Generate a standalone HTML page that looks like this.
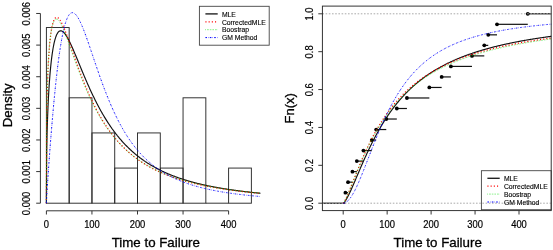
<!DOCTYPE html>
<html lang="en">
<head>
<meta charset="utf-8">
<title>Density and ECDF – Time to Failure</title>
<style>
html,body{margin:0;padding:0;background:#fff;}
body{width:553px;height:250px;overflow:hidden;font-family:"Liberation Sans",Arial,sans-serif;}
svg{display:block;}
</style>
</head>
<body>
<svg width="553" height="250" viewBox="0 0 553 250" font-family="'Liberation Sans', Arial, sans-serif">
<rect width="553" height="250" fill="#fff"/>
<g id="left">
<rect x="46.40" y="27.53" width="22.77" height="175.67" stroke="#2a2a2a" stroke-width="0.95" fill="none"/>
<rect x="69.17" y="97.80" width="22.78" height="105.40" stroke="#2a2a2a" stroke-width="0.95" fill="none"/>
<rect x="91.95" y="132.93" width="22.77" height="70.27" stroke="#2a2a2a" stroke-width="0.95" fill="none"/>
<rect x="114.72" y="168.07" width="22.78" height="35.13" stroke="#2a2a2a" stroke-width="0.95" fill="none"/>
<rect x="137.50" y="132.93" width="22.78" height="70.27" stroke="#2a2a2a" stroke-width="0.95" fill="none"/>
<rect x="160.28" y="168.07" width="22.78" height="35.13" stroke="#2a2a2a" stroke-width="0.95" fill="none"/>
<rect x="183.05" y="97.80" width="22.78" height="105.40" stroke="#2a2a2a" stroke-width="0.95" fill="none"/>
<path d="M205.83 203.20 H228.60" stroke="#2a2a2a" stroke-width="0.95" fill="none"/>
<rect x="228.60" y="168.07" width="22.77" height="35.13" stroke="#2a2a2a" stroke-width="0.95" fill="none"/>
<path d="M46.40 203.20 L46.63 158.24 L46.86 144.02 L47.08 133.78 L47.31 125.52 L47.54 118.51 L47.77 112.37 L47.99 106.90 L48.22 101.96 L48.45 97.44 L48.68 93.28 L48.91 89.43 L49.13 85.85 L49.36 82.50 L49.59 79.37 L49.82 76.43 L50.04 73.67 L50.27 71.06 L50.50 68.60 L50.73 66.27 L50.95 64.07 L51.18 61.98 L51.41 60.01 L51.64 58.14 L51.87 56.36 L52.09 54.68 L52.32 53.08 L52.55 51.57 L52.78 50.13 L53.00 48.77 L53.23 47.48 L53.46 46.25 L53.69 45.09 L53.92 43.99 L54.14 42.95 L54.37 41.97 L54.60 41.04 L54.83 40.17 L55.05 39.34 L55.28 38.57 L55.51 37.84 L55.74 37.15 L55.97 36.51 L56.19 35.91 L56.42 35.35 L56.65 34.83 L56.88 34.35 L57.10 33.90 L57.33 33.49 L57.56 33.11 L57.79 32.76 L58.02 32.45 L58.24 32.17 L58.47 31.91 L58.70 31.69 L58.93 31.49 L59.15 31.32 L59.38 31.18 L59.61 31.06 L59.84 30.96 L60.06 30.89 L60.29 30.84 L60.52 30.82 L60.75 30.81 L60.98 30.83 L61.20 30.86 L61.43 30.92 L61.66 30.99 L61.89 31.09 L62.11 31.20 L62.34 31.33 L62.57 31.47 L62.80 31.63 L63.03 31.81 L63.25 32.00 L63.48 32.20 L63.71 32.42 L63.94 32.66 L64.16 32.90 L64.39 33.16 L64.62 33.44 L64.85 33.72 L65.08 34.02 L65.30 34.32 L65.53 34.64 L65.76 34.97 L65.99 35.31 L66.21 35.65 L66.44 36.01 L66.67 36.38 L66.90 36.76 L67.13 37.14 L67.35 37.53 L67.58 37.93 L67.81 38.34 L68.04 38.76 L68.26 39.18 L68.49 39.61 L68.72 40.04 L68.95 40.49 L69.17 40.93 L69.40 41.39 L69.63 41.85 L69.86 42.31 L70.09 42.78 L70.31 43.26 L70.54 43.74 L70.77 44.23 L71.00 44.72 L71.22 45.21 L71.45 45.71 L71.68 46.21 L71.91 46.71 L72.14 47.22 L72.36 47.73 L72.59 48.25 L72.82 48.77 L73.05 49.29 L73.27 49.81 L73.50 50.34 L73.73 50.87 L73.96 51.40 L74.43 52.50 L74.89 53.60 L75.36 54.71 L75.83 55.83 L76.30 56.95 L76.76 58.08 L77.23 59.21 L77.70 60.34 L78.17 61.48 L78.63 62.61 L79.10 63.75 L79.57 64.88 L80.04 66.02 L80.50 67.15 L80.97 68.28 L81.44 69.41 L81.91 70.54 L82.37 71.66 L82.84 72.78 L83.31 73.90 L83.77 75.01 L84.24 76.11 L84.71 77.21 L85.18 78.31 L85.64 79.40 L86.11 80.48 L86.58 81.56 L87.05 82.63 L87.51 83.70 L87.98 84.75 L88.45 85.80 L88.92 86.85 L89.38 87.89 L89.85 88.91 L90.32 89.94 L90.79 90.95 L91.25 91.96 L91.72 92.96 L92.19 93.95 L92.66 94.93 L93.12 95.91 L93.59 96.87 L94.06 97.83 L94.53 98.78 L94.99 99.73 L95.46 100.66 L95.93 101.59 L96.40 102.50 L96.86 103.41 L97.33 104.32 L97.80 105.21 L98.27 106.09 L98.73 106.97 L99.20 107.84 L99.67 108.70 L100.14 109.55 L100.60 110.40 L101.07 111.23 L101.54 112.06 L102.01 112.88 L102.47 113.69 L102.94 114.50 L103.41 115.29 L103.88 116.08 L104.34 116.86 L104.81 117.63 L105.28 118.40 L105.75 119.16 L106.21 119.91 L106.68 120.65 L107.15 121.38 L107.62 122.11 L108.08 122.83 L108.55 123.54 L109.02 124.25 L109.49 124.94 L109.95 125.63 L110.42 126.32 L110.89 126.99 L111.36 127.66 L111.82 128.33 L112.29 128.98 L112.76 129.63 L113.23 130.27 L113.69 130.91 L114.16 131.54 L114.63 132.16 L115.10 132.77 L115.56 133.38 L116.03 133.99 L116.50 134.58 L116.97 135.17 L117.43 135.76 L117.90 136.33 L118.37 136.91 L118.84 137.47 L119.30 138.03 L119.77 138.59 L120.24 139.14 L120.71 139.68 L121.17 140.21 L121.64 140.75 L122.11 141.27 L122.58 141.79 L123.04 142.31 L123.51 142.82 L123.98 143.32 L124.45 143.82 L124.91 144.31 L125.38 144.80 L125.85 145.29 L126.32 145.76 L126.78 146.24 L127.25 146.71 L127.72 147.17 L128.19 147.63 L128.65 148.08 L129.12 148.53 L129.59 148.98 L130.06 149.42 L130.52 149.85 L130.99 150.28 L131.46 150.71 L131.93 151.13 L132.39 151.55 L132.86 151.96 L133.33 152.37 L133.80 152.78 L134.26 153.18 L134.73 153.58 L135.20 153.97 L135.67 154.36 L136.13 154.74 L136.60 155.12 L137.07 155.50 L137.54 155.88 L138.00 156.24 L138.47 156.61 L138.94 156.97 L139.41 157.33 L139.87 157.69 L140.34 158.04 L140.81 158.39 L141.28 158.73 L141.74 159.07 L142.21 159.41 L142.68 159.74 L143.15 160.07 L143.61 160.40 L144.08 160.72 L144.55 161.05 L145.02 161.36 L145.48 161.68 L145.95 161.99 L146.42 162.30 L146.89 162.60 L147.35 162.91 L147.82 163.21 L148.29 163.50 L148.76 163.80 L149.22 164.09 L149.69 164.38 L150.16 164.66 L150.63 164.94 L151.09 165.22 L151.56 165.50 L152.03 165.78 L152.50 166.05 L152.96 166.32 L153.43 166.58 L153.90 166.85 L154.37 167.11 L154.83 167.37 L155.30 167.62 L155.77 167.88 L156.24 168.13 L156.70 168.38 L157.17 168.63 L157.64 168.87 L158.11 169.11 L158.57 169.35 L159.04 169.59 L159.51 169.83 L159.98 170.06 L160.44 170.29 L160.91 170.52 L161.38 170.75 L161.85 170.97 L162.31 171.19 L162.78 171.42 L163.25 171.63 L163.72 171.85 L164.18 172.07 L164.65 172.28 L165.12 172.49 L165.59 172.70 L166.05 172.91 L166.52 173.11 L166.99 173.31 L167.46 173.51 L167.92 173.71 L168.39 173.91 L168.86 174.11 L169.33 174.30 L169.79 174.49 L170.26 174.69 L170.73 174.87 L171.20 175.06 L171.66 175.25 L172.13 175.43 L172.60 175.61 L173.06 175.80 L173.53 175.97 L174.00 176.15 L174.47 176.33 L174.93 176.50 L175.40 176.68 L175.87 176.85 L176.34 177.02 L176.80 177.19 L177.27 177.35 L177.74 177.52 L178.21 177.68 L178.67 177.85 L179.14 178.01 L179.61 178.17 L180.08 178.33 L180.54 178.48 L181.01 178.64 L181.48 178.79 L181.95 178.95 L182.41 179.10 L182.88 179.25 L183.35 179.40 L183.82 179.55 L184.28 179.69 L184.75 179.84 L185.22 179.98 L185.69 180.13 L186.15 180.27 L186.62 180.41 L187.09 180.55 L187.56 180.69 L188.02 180.82 L188.49 180.96 L188.96 181.10 L189.43 181.23 L189.89 181.36 L190.36 181.49 L190.83 181.63 L191.30 181.75 L191.76 181.88 L192.23 182.01 L192.70 182.14 L193.17 182.26 L193.63 182.39 L194.10 182.51 L194.57 182.63 L195.04 182.75 L195.50 182.88 L195.97 182.99 L196.44 183.11 L196.91 183.23 L197.37 183.35 L197.84 183.46 L198.31 183.58 L198.78 183.69 L199.24 183.80 L199.71 183.92 L200.18 184.03 L200.65 184.14 L201.11 184.25 L201.58 184.36 L202.05 184.46 L202.52 184.57 L202.98 184.68 L203.45 184.78 L203.92 184.89 L204.39 184.99 L204.85 185.09 L205.32 185.20 L205.79 185.30 L206.26 185.40 L206.72 185.50 L207.19 185.60 L207.66 185.69 L208.13 185.79 L208.59 185.89 L209.06 185.98 L209.53 186.08 L210.00 186.17 L210.46 186.27 L210.93 186.36 L211.40 186.45 L211.87 186.55 L212.33 186.64 L212.80 186.73 L213.27 186.82 L213.74 186.91 L214.20 186.99 L214.67 187.08 L215.14 187.17 L215.61 187.25 L216.07 187.34 L216.54 187.43 L217.01 187.51 L217.48 187.59 L217.94 187.68 L218.41 187.76 L218.88 187.84 L219.35 187.92 L219.81 188.00 L220.28 188.08 L220.75 188.16 L221.22 188.24 L221.68 188.32 L222.15 188.40 L222.62 188.48 L223.09 188.55 L223.55 188.63 L224.02 188.71 L224.49 188.78 L224.96 188.86 L225.42 188.93 L225.89 189.00 L226.36 189.08 L226.83 189.15 L227.29 189.22 L227.76 189.29 L228.23 189.36 L228.70 189.43 L229.16 189.50 L229.63 189.57 L230.10 189.64 L230.57 189.71 L231.03 189.78 L231.50 189.85 L231.97 189.91 L232.44 189.98 L232.90 190.05 L233.37 190.11 L233.84 190.18 L234.31 190.24 L234.77 190.31 L235.24 190.37 L235.71 190.43 L236.18 190.50 L236.64 190.56 L237.11 190.62 L237.58 190.68 L238.05 190.75 L238.51 190.81 L238.98 190.87 L239.45 190.93 L239.92 190.99 L240.38 191.05 L240.85 191.11 L241.32 191.16 L241.79 191.22 L242.25 191.28 L242.72 191.34 L243.19 191.39 L243.66 191.45 L244.12 191.51 L244.59 191.56 L245.06 191.62 L245.53 191.67 L245.99 191.73 L246.46 191.78 L246.93 191.84 L247.40 191.89 L247.86 191.94 L248.33 192.00 L248.80 192.05 L249.27 192.10 L249.73 192.15 L250.20 192.21 L250.67 192.26 L251.14 192.31 L251.60 192.36 L252.07 192.41 L252.54 192.46 L253.01 192.51 L253.47 192.56 L253.94 192.61 L254.41 192.66 L254.88 192.71 L255.34 192.75 L255.81 192.80 L256.28 192.85 L256.75 192.90 L257.21 192.94 L257.68 192.99 L258.15 193.04 L258.62 193.08 L259.08 193.13 L259.55 193.17 L260.02 193.22 L260.49 193.26" fill="none" stroke="#111" stroke-width="1.15"/>
<path d="M46.40 203.20 L46.63 127.64 L46.86 110.42 L47.08 98.75 L47.31 89.73 L47.54 82.33 L47.77 76.03 L47.99 70.57 L48.22 65.74 L48.45 61.44 L48.68 57.56 L48.91 54.04 L49.13 50.84 L49.36 47.92 L49.59 45.23 L49.82 42.76 L50.04 40.49 L50.27 38.39 L50.50 36.45 L50.73 34.65 L50.95 32.99 L51.18 31.46 L51.41 30.04 L51.64 28.73 L51.87 27.51 L52.09 26.40 L52.32 25.37 L52.55 24.42 L52.78 23.55 L53.00 22.75 L53.23 22.02 L53.46 21.36 L53.69 20.76 L53.92 20.22 L54.14 19.74 L54.37 19.30 L54.60 18.92 L54.83 18.59 L55.05 18.30 L55.28 18.06 L55.51 17.85 L55.74 17.69 L55.97 17.56 L56.19 17.48 L56.42 17.42 L56.65 17.40 L56.88 17.41 L57.10 17.45 L57.33 17.52 L57.56 17.62 L57.79 17.74 L58.02 17.89 L58.24 18.07 L58.47 18.26 L58.70 18.48 L58.93 18.72 L59.15 18.98 L59.38 19.27 L59.61 19.57 L59.84 19.88 L60.06 20.22 L60.29 20.57 L60.52 20.94 L60.75 21.32 L60.98 21.72 L61.20 22.13 L61.43 22.56 L61.66 22.99 L61.89 23.44 L62.11 23.91 L62.34 24.38 L62.57 24.86 L62.80 25.35 L63.03 25.86 L63.25 26.37 L63.48 26.89 L63.71 27.42 L63.94 27.96 L64.16 28.51 L64.39 29.06 L64.62 29.62 L64.85 30.19 L65.08 30.76 L65.30 31.34 L65.53 31.92 L65.76 32.51 L65.99 33.11 L66.21 33.71 L66.44 34.31 L66.67 34.92 L66.90 35.53 L67.13 36.15 L67.35 36.77 L67.58 37.39 L67.81 38.02 L68.04 38.65 L68.26 39.28 L68.49 39.91 L68.72 40.55 L68.95 41.19 L69.17 41.83 L69.40 42.47 L69.63 43.11 L69.86 43.76 L70.09 44.40 L70.31 45.05 L70.54 45.70 L70.77 46.35 L71.00 47.00 L71.22 47.65 L71.45 48.30 L71.68 48.95 L71.91 49.60 L72.14 50.26 L72.36 50.91 L72.59 51.56 L72.82 52.21 L73.05 52.86 L73.27 53.51 L73.50 54.16 L73.73 54.81 L73.96 55.46 L74.43 56.79 L74.89 58.11 L75.36 59.43 L75.83 60.75 L76.30 62.06 L76.76 63.36 L77.23 64.66 L77.70 65.95 L78.17 67.23 L78.63 68.50 L79.10 69.77 L79.57 71.02 L80.04 72.27 L80.50 73.51 L80.97 74.74 L81.44 75.96 L81.91 77.17 L82.37 78.38 L82.84 79.57 L83.31 80.75 L83.77 81.92 L84.24 83.08 L84.71 84.23 L85.18 85.37 L85.64 86.50 L86.11 87.62 L86.58 88.73 L87.05 89.83 L87.51 90.92 L87.98 91.99 L88.45 93.06 L88.92 94.11 L89.38 95.16 L89.85 96.19 L90.32 97.22 L90.79 98.23 L91.25 99.23 L91.72 100.22 L92.19 101.21 L92.66 102.18 L93.12 103.14 L93.59 104.09 L94.06 105.03 L94.53 105.96 L94.99 106.88 L95.46 107.79 L95.93 108.69 L96.40 109.58 L96.86 110.46 L97.33 111.34 L97.80 112.20 L98.27 113.05 L98.73 113.89 L99.20 114.73 L99.67 115.55 L100.14 116.37 L100.60 117.17 L101.07 117.97 L101.54 118.76 L102.01 119.54 L102.47 120.31 L102.94 121.07 L103.41 121.82 L103.88 122.57 L104.34 123.30 L104.81 124.03 L105.28 124.75 L105.75 125.46 L106.21 126.17 L106.68 126.86 L107.15 127.55 L107.62 128.23 L108.08 128.91 L108.55 129.57 L109.02 130.23 L109.49 130.88 L109.95 131.52 L110.42 132.16 L110.89 132.79 L111.36 133.41 L111.82 134.02 L112.29 134.63 L112.76 135.23 L113.23 135.83 L113.69 136.42 L114.16 137.00 L114.63 137.57 L115.10 138.14 L115.56 138.70 L116.03 139.26 L116.50 139.81 L116.97 140.35 L117.43 140.89 L117.90 141.42 L118.37 141.94 L118.84 142.46 L119.30 142.98 L119.77 143.49 L120.24 143.99 L120.71 144.49 L121.17 144.98 L121.64 145.47 L122.11 145.95 L122.58 146.42 L123.04 146.89 L123.51 147.36 L123.98 147.82 L124.45 148.27 L124.91 148.73 L125.38 149.17 L125.85 149.61 L126.32 150.05 L126.78 150.48 L127.25 150.91 L127.72 151.33 L128.19 151.75 L128.65 152.16 L129.12 152.57 L129.59 152.97 L130.06 153.37 L130.52 153.77 L130.99 154.16 L131.46 154.55 L131.93 154.93 L132.39 155.31 L132.86 155.69 L133.33 156.06 L133.80 156.43 L134.26 156.79 L134.73 157.15 L135.20 157.51 L135.67 157.86 L136.13 158.21 L136.60 158.56 L137.07 158.90 L137.54 159.24 L138.00 159.57 L138.47 159.90 L138.94 160.23 L139.41 160.56 L139.87 160.88 L140.34 161.20 L140.81 161.51 L141.28 161.83 L141.74 162.13 L142.21 162.44 L142.68 162.74 L143.15 163.04 L143.61 163.34 L144.08 163.63 L144.55 163.92 L145.02 164.21 L145.48 164.50 L145.95 164.78 L146.42 165.06 L146.89 165.33 L147.35 165.61 L147.82 165.88 L148.29 166.15 L148.76 166.41 L149.22 166.68 L149.69 166.94 L150.16 167.20 L150.63 167.45 L151.09 167.70 L151.56 167.96 L152.03 168.20 L152.50 168.45 L152.96 168.69 L153.43 168.93 L153.90 169.17 L154.37 169.41 L154.83 169.64 L155.30 169.88 L155.77 170.11 L156.24 170.34 L156.70 170.56 L157.17 170.78 L157.64 171.01 L158.11 171.23 L158.57 171.44 L159.04 171.66 L159.51 171.87 L159.98 172.08 L160.44 172.29 L160.91 172.50 L161.38 172.71 L161.85 172.91 L162.31 173.11 L162.78 173.31 L163.25 173.51 L163.72 173.71 L164.18 173.90 L164.65 174.09 L165.12 174.29 L165.59 174.48 L166.05 174.66 L166.52 174.85 L166.99 175.03 L167.46 175.22 L167.92 175.40 L168.39 175.58 L168.86 175.75 L169.33 175.93 L169.79 176.11 L170.26 176.28 L170.73 176.45 L171.20 176.62 L171.66 176.79 L172.13 176.96 L172.60 177.12 L173.06 177.29 L173.53 177.45 L174.00 177.61 L174.47 177.77 L174.93 177.93 L175.40 178.09 L175.87 178.24 L176.34 178.40 L176.80 178.55 L177.27 178.70 L177.74 178.85 L178.21 179.00 L178.67 179.15 L179.14 179.30 L179.61 179.44 L180.08 179.59 L180.54 179.73 L181.01 179.87 L181.48 180.01 L181.95 180.15 L182.41 180.29 L182.88 180.43 L183.35 180.57 L183.82 180.70 L184.28 180.84 L184.75 180.97 L185.22 181.10 L185.69 181.23 L186.15 181.36 L186.62 181.49 L187.09 181.62 L187.56 181.74 L188.02 181.87 L188.49 181.99 L188.96 182.12 L189.43 182.24 L189.89 182.36 L190.36 182.48 L190.83 182.60 L191.30 182.72 L191.76 182.84 L192.23 182.95 L192.70 183.07 L193.17 183.18 L193.63 183.30 L194.10 183.41 L194.57 183.52 L195.04 183.63 L195.50 183.74 L195.97 183.85 L196.44 183.96 L196.91 184.07 L197.37 184.18 L197.84 184.28 L198.31 184.39 L198.78 184.49 L199.24 184.60 L199.71 184.70 L200.18 184.80 L200.65 184.90 L201.11 185.00 L201.58 185.10 L202.05 185.20 L202.52 185.30 L202.98 185.40 L203.45 185.49 L203.92 185.59 L204.39 185.68 L204.85 185.78 L205.32 185.87 L205.79 185.97 L206.26 186.06 L206.72 186.15 L207.19 186.24 L207.66 186.33 L208.13 186.42 L208.59 186.51 L209.06 186.60 L209.53 186.69 L210.00 186.77 L210.46 186.86 L210.93 186.95 L211.40 187.03 L211.87 187.12 L212.33 187.20 L212.80 187.28 L213.27 187.37 L213.74 187.45 L214.20 187.53 L214.67 187.61 L215.14 187.69 L215.61 187.77 L216.07 187.85 L216.54 187.93 L217.01 188.01 L217.48 188.08 L217.94 188.16 L218.41 188.24 L218.88 188.31 L219.35 188.39 L219.81 188.46 L220.28 188.54 L220.75 188.61 L221.22 188.68 L221.68 188.76 L222.15 188.83 L222.62 188.90 L223.09 188.97 L223.55 189.04 L224.02 189.11 L224.49 189.18 L224.96 189.25 L225.42 189.32 L225.89 189.39 L226.36 189.46 L226.83 189.52 L227.29 189.59 L227.76 189.66 L228.23 189.72 L228.70 189.79 L229.16 189.85 L229.63 189.92 L230.10 189.98 L230.57 190.05 L231.03 190.11 L231.50 190.17 L231.97 190.24 L232.44 190.30 L232.90 190.36 L233.37 190.42 L233.84 190.48 L234.31 190.54 L234.77 190.60 L235.24 190.66 L235.71 190.72 L236.18 190.78 L236.64 190.84 L237.11 190.90 L237.58 190.95 L238.05 191.01 L238.51 191.07 L238.98 191.12 L239.45 191.18 L239.92 191.24 L240.38 191.29 L240.85 191.35 L241.32 191.40 L241.79 191.46 L242.25 191.51 L242.72 191.56 L243.19 191.62 L243.66 191.67 L244.12 191.72 L244.59 191.77 L245.06 191.83 L245.53 191.88 L245.99 191.93 L246.46 191.98 L246.93 192.03 L247.40 192.08 L247.86 192.13 L248.33 192.18 L248.80 192.23 L249.27 192.28 L249.73 192.33 L250.20 192.38 L250.67 192.42 L251.14 192.47 L251.60 192.52 L252.07 192.57 L252.54 192.61 L253.01 192.66 L253.47 192.71 L253.94 192.75 L254.41 192.80 L254.88 192.84 L255.34 192.89 L255.81 192.94 L256.28 192.98 L256.75 193.02 L257.21 193.07 L257.68 193.11 L258.15 193.16 L258.62 193.20 L259.08 193.24 L259.55 193.28 L260.02 193.33 L260.49 193.37" fill="none" stroke="#ff0000" stroke-width="1.3" stroke-dasharray="1.1 2.1"/>
<path d="M46.40 203.20 L46.63 123.94 L46.86 106.90 L47.08 95.46 L47.31 86.67 L47.54 79.49 L47.77 73.42 L47.99 68.16 L48.22 63.54 L48.45 59.43 L48.68 55.74 L48.91 52.41 L49.13 49.38 L49.36 46.62 L49.59 44.10 L49.82 41.78 L50.04 39.66 L50.27 37.70 L50.50 35.90 L50.73 34.24 L50.95 32.71 L51.18 31.30 L51.41 30.00 L51.64 28.81 L51.87 27.71 L52.09 26.70 L52.32 25.77 L52.55 24.93 L52.78 24.15 L53.00 23.45 L53.23 22.81 L53.46 22.24 L53.69 21.72 L53.92 21.26 L54.14 20.86 L54.37 20.50 L54.60 20.19 L54.83 19.93 L55.05 19.71 L55.28 19.53 L55.51 19.39 L55.74 19.28 L55.97 19.22 L56.19 19.18 L56.42 19.18 L56.65 19.21 L56.88 19.27 L57.10 19.36 L57.33 19.47 L57.56 19.61 L57.79 19.78 L58.02 19.97 L58.24 20.18 L58.47 20.41 L58.70 20.66 L58.93 20.94 L59.15 21.23 L59.38 21.54 L59.61 21.87 L59.84 22.21 L60.06 22.57 L60.29 22.95 L60.52 23.34 L60.75 23.74 L60.98 24.16 L61.20 24.59 L61.43 25.03 L61.66 25.49 L61.89 25.95 L62.11 26.43 L62.34 26.91 L62.57 27.41 L62.80 27.91 L63.03 28.43 L63.25 28.95 L63.48 29.48 L63.71 30.02 L63.94 30.56 L64.16 31.11 L64.39 31.67 L64.62 32.23 L64.85 32.80 L65.08 33.38 L65.30 33.96 L65.53 34.55 L65.76 35.14 L65.99 35.73 L66.21 36.33 L66.44 36.94 L66.67 37.54 L66.90 38.15 L67.13 38.77 L67.35 39.38 L67.58 40.00 L67.81 40.62 L68.04 41.25 L68.26 41.88 L68.49 42.50 L68.72 43.14 L68.95 43.77 L69.17 44.40 L69.40 45.04 L69.63 45.67 L69.86 46.31 L70.09 46.95 L70.31 47.59 L70.54 48.23 L70.77 48.87 L71.00 49.51 L71.22 50.15 L71.45 50.79 L71.68 51.43 L71.91 52.07 L72.14 52.71 L72.36 53.35 L72.59 53.99 L72.82 54.63 L73.05 55.27 L73.27 55.91 L73.50 56.55 L73.73 57.19 L73.96 57.82 L74.43 59.13 L74.89 60.43 L75.36 61.72 L75.83 63.01 L76.30 64.29 L76.76 65.57 L77.23 66.83 L77.70 68.09 L78.17 69.35 L78.63 70.59 L79.10 71.83 L79.57 73.06 L80.04 74.28 L80.50 75.49 L80.97 76.69 L81.44 77.88 L81.91 79.06 L82.37 80.23 L82.84 81.40 L83.31 82.55 L83.77 83.69 L84.24 84.82 L84.71 85.95 L85.18 87.06 L85.64 88.16 L86.11 89.25 L86.58 90.33 L87.05 91.40 L87.51 92.46 L87.98 93.51 L88.45 94.55 L88.92 95.58 L89.38 96.60 L89.85 97.60 L90.32 98.60 L90.79 99.59 L91.25 100.57 L91.72 101.53 L92.19 102.49 L92.66 103.44 L93.12 104.37 L93.59 105.30 L94.06 106.22 L94.53 107.12 L94.99 108.02 L95.46 108.91 L95.93 109.79 L96.40 110.66 L96.86 111.52 L97.33 112.36 L97.80 113.21 L98.27 114.04 L98.73 114.86 L99.20 115.67 L99.67 116.48 L100.14 117.27 L100.60 118.06 L101.07 118.83 L101.54 119.60 L102.01 120.36 L102.47 121.12 L102.94 121.86 L103.41 122.59 L103.88 123.32 L104.34 124.04 L104.81 124.75 L105.28 125.46 L105.75 126.15 L106.21 126.84 L106.68 127.52 L107.15 128.19 L107.62 128.86 L108.08 129.51 L108.55 130.16 L109.02 130.81 L109.49 131.44 L109.95 132.07 L110.42 132.69 L110.89 133.31 L111.36 133.91 L111.82 134.52 L112.29 135.11 L112.76 135.70 L113.23 136.28 L113.69 136.85 L114.16 137.42 L114.63 137.99 L115.10 138.54 L115.56 139.09 L116.03 139.64 L116.50 140.17 L116.97 140.71 L117.43 141.23 L117.90 141.75 L118.37 142.27 L118.84 142.78 L119.30 143.28 L119.77 143.78 L120.24 144.27 L120.71 144.76 L121.17 145.24 L121.64 145.72 L122.11 146.19 L122.58 146.66 L123.04 147.12 L123.51 147.58 L123.98 148.03 L124.45 148.47 L124.91 148.92 L125.38 149.35 L125.85 149.79 L126.32 150.21 L126.78 150.64 L127.25 151.06 L127.72 151.47 L128.19 151.88 L128.65 152.29 L129.12 152.69 L129.59 153.09 L130.06 153.48 L130.52 153.87 L130.99 154.26 L131.46 154.64 L131.93 155.01 L132.39 155.39 L132.86 155.76 L133.33 156.12 L133.80 156.48 L134.26 156.84 L134.73 157.20 L135.20 157.55 L135.67 157.90 L136.13 158.24 L136.60 158.58 L137.07 158.92 L137.54 159.25 L138.00 159.58 L138.47 159.91 L138.94 160.23 L139.41 160.55 L139.87 160.87 L140.34 161.18 L140.81 161.49 L141.28 161.80 L141.74 162.10 L142.21 162.40 L142.68 162.70 L143.15 163.00 L143.61 163.29 L144.08 163.58 L144.55 163.87 L145.02 164.15 L145.48 164.43 L145.95 164.71 L146.42 164.99 L146.89 165.26 L147.35 165.53 L147.82 165.80 L148.29 166.06 L148.76 166.32 L149.22 166.58 L149.69 166.84 L150.16 167.10 L150.63 167.35 L151.09 167.60 L151.56 167.85 L152.03 168.09 L152.50 168.34 L152.96 168.58 L153.43 168.82 L153.90 169.05 L154.37 169.29 L154.83 169.52 L155.30 169.75 L155.77 169.98 L156.24 170.20 L156.70 170.42 L157.17 170.65 L157.64 170.87 L158.11 171.08 L158.57 171.30 L159.04 171.51 L159.51 171.72 L159.98 171.93 L160.44 172.14 L160.91 172.34 L161.38 172.55 L161.85 172.75 L162.31 172.95 L162.78 173.15 L163.25 173.35 L163.72 173.54 L164.18 173.73 L164.65 173.92 L165.12 174.11 L165.59 174.30 L166.05 174.49 L166.52 174.67 L166.99 174.86 L167.46 175.04 L167.92 175.22 L168.39 175.39 L168.86 175.57 L169.33 175.75 L169.79 175.92 L170.26 176.09 L170.73 176.26 L171.20 176.43 L171.66 176.60 L172.13 176.76 L172.60 176.93 L173.06 177.09 L173.53 177.25 L174.00 177.41 L174.47 177.57 L174.93 177.73 L175.40 177.89 L175.87 178.04 L176.34 178.20 L176.80 178.35 L177.27 178.50 L177.74 178.65 L178.21 178.80 L178.67 178.94 L179.14 179.09 L179.61 179.24 L180.08 179.38 L180.54 179.52 L181.01 179.66 L181.48 179.80 L181.95 179.94 L182.41 180.08 L182.88 180.22 L183.35 180.35 L183.82 180.49 L184.28 180.62 L184.75 180.75 L185.22 180.88 L185.69 181.01 L186.15 181.14 L186.62 181.27 L187.09 181.40 L187.56 181.52 L188.02 181.65 L188.49 181.77 L188.96 181.90 L189.43 182.02 L189.89 182.14 L190.36 182.26 L190.83 182.38 L191.30 182.50 L191.76 182.61 L192.23 182.73 L192.70 182.85 L193.17 182.96 L193.63 183.07 L194.10 183.19 L194.57 183.30 L195.04 183.41 L195.50 183.52 L195.97 183.63 L196.44 183.74 L196.91 183.84 L197.37 183.95 L197.84 184.06 L198.31 184.16 L198.78 184.27 L199.24 184.37 L199.71 184.47 L200.18 184.57 L200.65 184.68 L201.11 184.78 L201.58 184.88 L202.05 184.97 L202.52 185.07 L202.98 185.17 L203.45 185.27 L203.92 185.36 L204.39 185.46 L204.85 185.55 L205.32 185.65 L205.79 185.74 L206.26 185.83 L206.72 185.92 L207.19 186.01 L207.66 186.10 L208.13 186.19 L208.59 186.28 L209.06 186.37 L209.53 186.46 L210.00 186.55 L210.46 186.63 L210.93 186.72 L211.40 186.80 L211.87 186.89 L212.33 186.97 L212.80 187.06 L213.27 187.14 L213.74 187.22 L214.20 187.30 L214.67 187.38 L215.14 187.46 L215.61 187.54 L216.07 187.62 L216.54 187.70 L217.01 187.78 L217.48 187.86 L217.94 187.94 L218.41 188.01 L218.88 188.09 L219.35 188.16 L219.81 188.24 L220.28 188.31 L220.75 188.39 L221.22 188.46 L221.68 188.53 L222.15 188.60 L222.62 188.68 L223.09 188.75 L223.55 188.82 L224.02 188.89 L224.49 188.96 L224.96 189.03 L225.42 189.10 L225.89 189.17 L226.36 189.23 L226.83 189.30 L227.29 189.37 L227.76 189.44 L228.23 189.50 L228.70 189.57 L229.16 189.63 L229.63 189.70 L230.10 189.76 L230.57 189.83 L231.03 189.89 L231.50 189.95 L231.97 190.02 L232.44 190.08 L232.90 190.14 L233.37 190.20 L233.84 190.26 L234.31 190.32 L234.77 190.38 L235.24 190.44 L235.71 190.50 L236.18 190.56 L236.64 190.62 L237.11 190.68 L237.58 190.74 L238.05 190.79 L238.51 190.85 L238.98 190.91 L239.45 190.96 L239.92 191.02 L240.38 191.08 L240.85 191.13 L241.32 191.19 L241.79 191.24 L242.25 191.30 L242.72 191.35 L243.19 191.40 L243.66 191.46 L244.12 191.51 L244.59 191.56 L245.06 191.61 L245.53 191.67 L245.99 191.72 L246.46 191.77 L246.93 191.82 L247.40 191.87 L247.86 191.92 L248.33 191.97 L248.80 192.02 L249.27 192.07 L249.73 192.12 L250.20 192.17 L250.67 192.22 L251.14 192.26 L251.60 192.31 L252.07 192.36 L252.54 192.41 L253.01 192.45 L253.47 192.50 L253.94 192.55 L254.41 192.59 L254.88 192.64 L255.34 192.69 L255.81 192.73 L256.28 192.78 L256.75 192.82 L257.21 192.86 L257.68 192.91 L258.15 192.95 L258.62 193.00 L259.08 193.04 L259.55 193.08 L260.02 193.13 L260.49 193.17" fill="none" stroke="#00e000" stroke-width="0.9" stroke-dasharray="0.5 1.1"/>
<path d="M46.40 203.20 L46.63 198.59 L46.86 194.60 L47.08 190.82 L47.31 187.17 L47.54 183.61 L47.77 180.14 L47.99 176.72 L48.22 173.37 L48.45 170.07 L48.68 166.81 L48.91 163.60 L49.13 160.43 L49.36 157.30 L49.59 154.21 L49.82 151.15 L50.04 148.13 L50.27 145.15 L50.50 142.20 L50.73 139.29 L50.95 136.41 L51.18 133.56 L51.41 130.75 L51.64 127.97 L51.87 125.23 L52.09 122.52 L52.32 119.84 L52.55 117.19 L52.78 114.58 L53.00 112.00 L53.23 109.46 L53.46 106.95 L53.69 104.47 L53.92 102.03 L54.14 99.62 L54.37 97.24 L54.60 94.90 L54.83 92.60 L55.05 90.32 L55.28 88.09 L55.51 85.88 L55.74 83.71 L55.97 81.58 L56.19 79.48 L56.42 77.42 L56.65 75.39 L56.88 73.39 L57.10 71.43 L57.33 69.51 L57.56 67.62 L57.79 65.76 L58.02 63.94 L58.24 62.16 L58.47 60.41 L58.70 58.69 L58.93 57.01 L59.15 55.36 L59.38 53.75 L59.61 52.17 L59.84 50.63 L60.06 49.12 L60.29 47.65 L60.52 46.21 L60.75 44.80 L60.98 43.43 L61.20 42.09 L61.43 40.78 L61.66 39.51 L61.89 38.27 L62.11 37.07 L62.34 35.89 L62.57 34.75 L62.80 33.64 L63.03 32.57 L63.25 31.52 L63.48 30.51 L63.71 29.53 L63.94 28.58 L64.16 27.66 L64.39 26.77 L64.62 25.91 L64.85 25.08 L65.08 24.29 L65.30 23.52 L65.53 22.78 L65.76 22.07 L65.99 21.39 L66.21 20.73 L66.44 20.11 L66.67 19.51 L66.90 18.94 L67.13 18.40 L67.35 17.88 L67.58 17.39 L67.81 16.93 L68.04 16.49 L68.26 16.08 L68.49 15.70 L68.72 15.33 L68.95 15.00 L69.17 14.68 L69.40 14.40 L69.63 14.13 L69.86 13.89 L70.09 13.67 L70.31 13.47 L70.54 13.30 L70.77 13.15 L71.00 13.01 L71.22 12.90 L71.45 12.82 L71.68 12.75 L71.91 12.70 L72.14 12.67 L72.36 12.66 L72.59 12.67 L72.82 12.70 L73.05 12.75 L73.27 12.81 L73.50 12.89 L73.73 12.99 L73.96 13.11 L74.43 13.41 L74.89 13.77 L75.36 14.20 L75.83 14.69 L76.30 15.23 L76.76 15.84 L77.23 16.50 L77.70 17.22 L78.17 17.98 L78.63 18.79 L79.10 19.65 L79.57 20.55 L80.04 21.49 L80.50 22.46 L80.97 23.48 L81.44 24.53 L81.91 25.61 L82.37 26.71 L82.84 27.85 L83.31 29.02 L83.77 30.21 L84.24 31.42 L84.71 32.65 L85.18 33.90 L85.64 35.17 L86.11 36.46 L86.58 37.76 L87.05 39.08 L87.51 40.40 L87.98 41.74 L88.45 43.09 L88.92 44.45 L89.38 45.81 L89.85 47.19 L90.32 48.56 L90.79 49.94 L91.25 51.33 L91.72 52.72 L92.19 54.11 L92.66 55.50 L93.12 56.89 L93.59 58.27 L94.06 59.66 L94.53 61.05 L94.99 62.43 L95.46 63.81 L95.93 65.19 L96.40 66.56 L96.86 67.92 L97.33 69.29 L97.80 70.64 L98.27 71.99 L98.73 73.33 L99.20 74.67 L99.67 75.99 L100.14 77.31 L100.60 78.62 L101.07 79.93 L101.54 81.22 L102.01 82.50 L102.47 83.78 L102.94 85.05 L103.41 86.30 L103.88 87.55 L104.34 88.79 L104.81 90.01 L105.28 91.23 L105.75 92.43 L106.21 93.63 L106.68 94.81 L107.15 95.99 L107.62 97.15 L108.08 98.30 L108.55 99.44 L109.02 100.57 L109.49 101.69 L109.95 102.80 L110.42 103.90 L110.89 104.99 L111.36 106.06 L111.82 107.12 L112.29 108.18 L112.76 109.22 L113.23 110.25 L113.69 111.27 L114.16 112.28 L114.63 113.27 L115.10 114.26 L115.56 115.24 L116.03 116.20 L116.50 117.16 L116.97 118.10 L117.43 119.03 L117.90 119.96 L118.37 120.87 L118.84 121.77 L119.30 122.66 L119.77 123.54 L120.24 124.41 L120.71 125.27 L121.17 126.12 L121.64 126.96 L122.11 127.79 L122.58 128.61 L123.04 129.42 L123.51 130.23 L123.98 131.02 L124.45 131.80 L124.91 132.57 L125.38 133.34 L125.85 134.09 L126.32 134.84 L126.78 135.57 L127.25 136.30 L127.72 137.02 L128.19 137.73 L128.65 138.43 L129.12 139.12 L129.59 139.81 L130.06 140.48 L130.52 141.15 L130.99 141.81 L131.46 142.46 L131.93 143.11 L132.39 143.74 L132.86 144.37 L133.33 144.99 L133.80 145.60 L134.26 146.21 L134.73 146.81 L135.20 147.40 L135.67 147.98 L136.13 148.56 L136.60 149.13 L137.07 149.69 L137.54 150.24 L138.00 150.79 L138.47 151.33 L138.94 151.87 L139.41 152.40 L139.87 152.92 L140.34 153.43 L140.81 153.94 L141.28 154.45 L141.74 154.94 L142.21 155.43 L142.68 155.92 L143.15 156.40 L143.61 156.87 L144.08 157.34 L144.55 157.80 L145.02 158.26 L145.48 158.71 L145.95 159.15 L146.42 159.59 L146.89 160.03 L147.35 160.45 L147.82 160.88 L148.29 161.30 L148.76 161.71 L149.22 162.12 L149.69 162.52 L150.16 162.92 L150.63 163.32 L151.09 163.71 L151.56 164.09 L152.03 164.47 L152.50 164.85 L152.96 165.22 L153.43 165.58 L153.90 165.95 L154.37 166.31 L154.83 166.66 L155.30 167.01 L155.77 167.35 L156.24 167.70 L156.70 168.03 L157.17 168.37 L157.64 168.70 L158.11 169.02 L158.57 169.34 L159.04 169.66 L159.51 169.98 L159.98 170.29 L160.44 170.59 L160.91 170.90 L161.38 171.20 L161.85 171.49 L162.31 171.79 L162.78 172.08 L163.25 172.36 L163.72 172.65 L164.18 172.92 L164.65 173.20 L165.12 173.47 L165.59 173.75 L166.05 174.01 L166.52 174.28 L166.99 174.54 L167.46 174.80 L167.92 175.05 L168.39 175.30 L168.86 175.55 L169.33 175.80 L169.79 176.04 L170.26 176.28 L170.73 176.52 L171.20 176.76 L171.66 176.99 L172.13 177.22 L172.60 177.45 L173.06 177.68 L173.53 177.90 L174.00 178.12 L174.47 178.34 L174.93 178.55 L175.40 178.77 L175.87 178.98 L176.34 179.19 L176.80 179.39 L177.27 179.60 L177.74 179.80 L178.21 180.00 L178.67 180.20 L179.14 180.39 L179.61 180.58 L180.08 180.77 L180.54 180.96 L181.01 181.15 L181.48 181.34 L181.95 181.52 L182.41 181.70 L182.88 181.88 L183.35 182.06 L183.82 182.23 L184.28 182.41 L184.75 182.58 L185.22 182.75 L185.69 182.92 L186.15 183.08 L186.62 183.25 L187.09 183.41 L187.56 183.57 L188.02 183.73 L188.49 183.89 L188.96 184.04 L189.43 184.20 L189.89 184.35 L190.36 184.50 L190.83 184.65 L191.30 184.80 L191.76 184.95 L192.23 185.09 L192.70 185.24 L193.17 185.38 L193.63 185.52 L194.10 185.66 L194.57 185.80 L195.04 185.93 L195.50 186.07 L195.97 186.20 L196.44 186.33 L196.91 186.47 L197.37 186.60 L197.84 186.72 L198.31 186.85 L198.78 186.98 L199.24 187.10 L199.71 187.23 L200.18 187.35 L200.65 187.47 L201.11 187.59 L201.58 187.71 L202.05 187.82 L202.52 187.94 L202.98 188.06 L203.45 188.17 L203.92 188.28 L204.39 188.40 L204.85 188.51 L205.32 188.62 L205.79 188.72 L206.26 188.83 L206.72 188.94 L207.19 189.04 L207.66 189.15 L208.13 189.25 L208.59 189.35 L209.06 189.46 L209.53 189.56 L210.00 189.66 L210.46 189.76 L210.93 189.85 L211.40 189.95 L211.87 190.05 L212.33 190.14 L212.80 190.23 L213.27 190.33 L213.74 190.42 L214.20 190.51 L214.67 190.60 L215.14 190.69 L215.61 190.78 L216.07 190.87 L216.54 190.96 L217.01 191.04 L217.48 191.13 L217.94 191.21 L218.41 191.30 L218.88 191.38 L219.35 191.46 L219.81 191.55 L220.28 191.63 L220.75 191.71 L221.22 191.79 L221.68 191.87 L222.15 191.94 L222.62 192.02 L223.09 192.10 L223.55 192.18 L224.02 192.25 L224.49 192.33 L224.96 192.40 L225.42 192.47 L225.89 192.55 L226.36 192.62 L226.83 192.69 L227.29 192.76 L227.76 192.83 L228.23 192.90 L228.70 192.97 L229.16 193.04 L229.63 193.11 L230.10 193.17 L230.57 193.24 L231.03 193.31 L231.50 193.37 L231.97 193.44 L232.44 193.50 L232.90 193.56 L233.37 193.63 L233.84 193.69 L234.31 193.75 L234.77 193.81 L235.24 193.88 L235.71 193.94 L236.18 194.00 L236.64 194.06 L237.11 194.12 L237.58 194.17 L238.05 194.23 L238.51 194.29 L238.98 194.35 L239.45 194.40 L239.92 194.46 L240.38 194.51 L240.85 194.57 L241.32 194.62 L241.79 194.68 L242.25 194.73 L242.72 194.79 L243.19 194.84 L243.66 194.89 L244.12 194.94 L244.59 195.00 L245.06 195.05 L245.53 195.10 L245.99 195.15 L246.46 195.20 L246.93 195.25 L247.40 195.30 L247.86 195.35 L248.33 195.39 L248.80 195.44 L249.27 195.49 L249.73 195.54 L250.20 195.58 L250.67 195.63 L251.14 195.68 L251.60 195.72 L252.07 195.77 L252.54 195.81 L253.01 195.86 L253.47 195.90 L253.94 195.95 L254.41 195.99 L254.88 196.03 L255.34 196.08 L255.81 196.12 L256.28 196.16 L256.75 196.20 L257.21 196.24 L257.68 196.28 L258.15 196.33 L258.62 196.37 L259.08 196.41 L259.55 196.45 L260.02 196.49 L260.49 196.53" fill="none" stroke="#0000ff" stroke-width="1.0" stroke-dasharray="1.6 1.2 0.4 1.2"/>
<path d="M40.4 13.48 V203.20" stroke="#2a2a2a" stroke-width="0.95" fill="none"/>
<path d="M40.4 203.20 H36.2" stroke="#2a2a2a" stroke-width="0.95" fill="none"/>
<text transform="translate(30.2 203.40) rotate(-90) scale(0.94 1)" text-anchor="middle" font-size="10" fill="#000" stroke="#000" stroke-width="0.2">0.000</text>
<path d="M40.4 171.58 H36.2" stroke="#2a2a2a" stroke-width="0.95" fill="none"/>
<text transform="translate(30.2 171.78) rotate(-90) scale(0.94 1)" text-anchor="middle" font-size="10" fill="#000" stroke="#000" stroke-width="0.2">0.001</text>
<path d="M40.4 139.96 H36.2" stroke="#2a2a2a" stroke-width="0.95" fill="none"/>
<text transform="translate(30.2 140.16) rotate(-90) scale(0.94 1)" text-anchor="middle" font-size="10" fill="#000" stroke="#000" stroke-width="0.2">0.002</text>
<path d="M40.4 108.34 H36.2" stroke="#2a2a2a" stroke-width="0.95" fill="none"/>
<text transform="translate(30.2 108.54) rotate(-90) scale(0.94 1)" text-anchor="middle" font-size="10" fill="#000" stroke="#000" stroke-width="0.2">0.003</text>
<path d="M40.4 76.72 H36.2" stroke="#2a2a2a" stroke-width="0.95" fill="none"/>
<text transform="translate(30.2 76.92) rotate(-90) scale(0.94 1)" text-anchor="middle" font-size="10" fill="#000" stroke="#000" stroke-width="0.2">0.004</text>
<path d="M40.4 45.10 H36.2" stroke="#2a2a2a" stroke-width="0.95" fill="none"/>
<text transform="translate(30.2 45.30) rotate(-90) scale(0.94 1)" text-anchor="middle" font-size="10" fill="#000" stroke="#000" stroke-width="0.2">0.005</text>
<path d="M40.4 13.48 H36.2" stroke="#2a2a2a" stroke-width="0.95" fill="none"/>
<text transform="translate(30.2 13.68) rotate(-90) scale(0.94 1)" text-anchor="middle" font-size="10" fill="#000" stroke="#000" stroke-width="0.2">0.006</text>
<path d="M46.40 210.8 H228.60" stroke="#2a2a2a" stroke-width="0.95" fill="none"/>
<path d="M46.40 210.8 V214.5" stroke="#2a2a2a" stroke-width="0.95" fill="none"/>
<text transform="translate(46.40 227.8) scale(0.94 1)" text-anchor="middle" font-size="10" fill="#000" stroke="#000" stroke-width="0.2">0</text>
<path d="M91.95 210.8 V214.5" stroke="#2a2a2a" stroke-width="0.95" fill="none"/>
<text transform="translate(91.95 227.8) scale(0.94 1)" text-anchor="middle" font-size="10" fill="#000" stroke="#000" stroke-width="0.2">100</text>
<path d="M137.50 210.8 V214.5" stroke="#2a2a2a" stroke-width="0.95" fill="none"/>
<text transform="translate(137.50 227.8) scale(0.94 1)" text-anchor="middle" font-size="10" fill="#000" stroke="#000" stroke-width="0.2">200</text>
<path d="M183.05 210.8 V214.5" stroke="#2a2a2a" stroke-width="0.95" fill="none"/>
<text transform="translate(183.05 227.8) scale(0.94 1)" text-anchor="middle" font-size="10" fill="#000" stroke="#000" stroke-width="0.2">300</text>
<path d="M228.60 210.8 V214.5" stroke="#2a2a2a" stroke-width="0.95" fill="none"/>
<text transform="translate(228.60 227.8) scale(0.94 1)" text-anchor="middle" font-size="10" fill="#000" stroke="#000" stroke-width="0.2">400</text>
<text x="155.8" y="246.5" text-anchor="middle" font-size="13.4" textLength="88.2" lengthAdjust="spacingAndGlyphs" fill="#000" stroke="#000" stroke-width="0.3">Time to Failure</text>
<text transform="translate(11.6 105.3) rotate(-90)" text-anchor="middle" font-size="13.4" textLength="44" lengthAdjust="spacingAndGlyphs" fill="#000" stroke="#000" stroke-width="0.3">Density</text>
</g>
<rect x="199.4" y="6.3" width="69.8" height="38.9" fill="none" stroke="#444" stroke-width="0.9"/>
<path d="M205.4 13.90 H217.7" fill="none" stroke="#222" stroke-width="1.4"/>
<text x="221.9" y="16.60" font-size="6.8" fill="#000" stroke="#000" stroke-width="0.12">MLE</text>
<path d="M205.4 21.80 H217.7" fill="none" stroke="#ff0000" stroke-width="1.3" stroke-dasharray="1.1 2.1"/>
<text x="221.9" y="24.50" font-size="6.8" fill="#000" stroke="#000" stroke-width="0.12">CorrectedMLE</text>
<path d="M205.4 29.70 H217.7" fill="none" stroke="#00e000" stroke-width="0.9" stroke-dasharray="0.5 1.1"/>
<text x="221.9" y="32.40" font-size="6.8" fill="#000" stroke="#000" stroke-width="0.12">Boostrap</text>
<path d="M205.4 37.60 H217.7" fill="none" stroke="#0000ff" stroke-width="1.0" stroke-dasharray="1.6 1.2 0.4 1.2"/>
<text x="221.9" y="40.30" font-size="6.8" fill="#000" stroke="#000" stroke-width="0.12">GM Method</text>
<g id="right">
<path d="M322.4 203.20 H345.40" stroke="#111" stroke-width="1.2" fill="none"/>
<path d="M345.40 192.68 H348.03" stroke="#111" stroke-width="1.2" fill="none"/>
<path d="M348.03 182.16 H352.43" stroke="#111" stroke-width="1.2" fill="none"/>
<path d="M352.43 171.63 H356.82" stroke="#111" stroke-width="1.2" fill="none"/>
<path d="M356.82 161.11 H363.42" stroke="#111" stroke-width="1.2" fill="none"/>
<path d="M363.42 150.59 H371.77" stroke="#111" stroke-width="1.2" fill="none"/>
<path d="M371.77 140.07 H376.16" stroke="#111" stroke-width="1.2" fill="none"/>
<path d="M376.16 129.54 H386.27" stroke="#111" stroke-width="1.2" fill="none"/>
<path d="M386.27 119.02 H396.82" stroke="#111" stroke-width="1.2" fill="none"/>
<path d="M396.82 108.50 H406.93" stroke="#111" stroke-width="1.2" fill="none"/>
<path d="M406.93 97.98 H429.34" stroke="#111" stroke-width="1.2" fill="none"/>
<path d="M429.34 87.46 H441.65" stroke="#111" stroke-width="1.2" fill="none"/>
<path d="M441.65 76.93 H450.88" stroke="#111" stroke-width="1.2" fill="none"/>
<path d="M450.88 66.41 H471.97" stroke="#111" stroke-width="1.2" fill="none"/>
<path d="M471.97 55.89 H484.28" stroke="#111" stroke-width="1.2" fill="none"/>
<path d="M484.28 45.37 H488.24" stroke="#111" stroke-width="1.2" fill="none"/>
<path d="M488.24 34.84 H497.02" stroke="#111" stroke-width="1.2" fill="none"/>
<path d="M497.02 24.32 H527.79" stroke="#111" stroke-width="1.2" fill="none"/>
<path d="M527.79 13.80 H551.20" stroke="#111" stroke-width="1.2" fill="none"/>
<circle cx="345.40" cy="192.68" r="1.9" fill="#000"/>
<circle cx="348.03" cy="182.16" r="1.9" fill="#000"/>
<circle cx="352.43" cy="171.63" r="1.9" fill="#000"/>
<circle cx="356.82" cy="161.11" r="1.9" fill="#000"/>
<circle cx="363.42" cy="150.59" r="1.9" fill="#000"/>
<circle cx="371.77" cy="140.07" r="1.9" fill="#000"/>
<circle cx="376.16" cy="129.54" r="1.9" fill="#000"/>
<circle cx="386.27" cy="119.02" r="1.9" fill="#000"/>
<circle cx="396.82" cy="108.50" r="1.9" fill="#000"/>
<circle cx="406.93" cy="97.98" r="1.9" fill="#000"/>
<circle cx="429.34" cy="87.46" r="1.9" fill="#000"/>
<circle cx="441.65" cy="76.93" r="1.9" fill="#000"/>
<circle cx="450.88" cy="66.41" r="1.9" fill="#000"/>
<circle cx="471.97" cy="55.89" r="1.9" fill="#000"/>
<circle cx="484.28" cy="45.37" r="1.9" fill="#000"/>
<circle cx="488.24" cy="34.84" r="1.9" fill="#000"/>
<circle cx="497.02" cy="24.32" r="1.9" fill="#000"/>
<circle cx="527.79" cy="13.80" r="1.9" fill="#000"/>
<path d="M322.4 203.20 H551.2" stroke="#aaaaaa" stroke-width="1" stroke-dasharray="1.6 1.6" fill="none"/>
<path d="M322.4 13.80 H551.2" stroke="#aaaaaa" stroke-width="1" stroke-dasharray="1.6 1.6" fill="none"/>
<path d="M343.20 203.20 L343.42 203.10 L343.64 202.95 L343.86 202.75 L344.08 202.53 L344.30 202.29 L344.52 202.03 L344.74 201.75 L344.96 201.45 L345.18 201.14 L345.40 200.82 L345.62 200.48 L345.84 200.14 L346.06 199.78 L346.28 199.41 L346.50 199.04 L346.72 198.65 L346.94 198.26 L347.16 197.86 L347.38 197.46 L347.59 197.04 L347.81 196.62 L348.03 196.20 L348.25 195.76 L348.47 195.33 L348.69 194.89 L348.91 194.44 L349.13 193.99 L349.35 193.53 L349.57 193.07 L349.79 192.60 L350.01 192.14 L350.23 191.66 L350.45 191.19 L350.67 190.71 L350.89 190.23 L351.11 189.75 L351.33 189.26 L351.55 188.77 L351.77 188.28 L351.99 187.78 L352.21 187.29 L352.43 186.79 L352.65 186.29 L352.87 185.79 L353.09 185.28 L353.31 184.78 L353.53 184.27 L353.75 183.76 L353.97 183.25 L354.19 182.74 L354.41 182.23 L354.63 181.72 L354.85 181.21 L355.07 180.70 L355.29 180.18 L355.51 179.67 L355.73 179.15 L355.95 178.64 L356.17 178.12 L356.38 177.61 L356.60 177.09 L356.82 176.57 L357.04 176.06 L357.26 175.54 L357.48 175.02 L357.70 174.51 L357.92 173.99 L358.14 173.48 L358.36 172.96 L358.58 172.45 L358.80 171.93 L359.02 171.42 L359.24 170.90 L359.46 170.39 L359.68 169.88 L359.90 169.37 L360.12 168.86 L360.34 168.35 L360.56 167.84 L360.78 167.33 L361.00 166.82 L361.22 166.31 L361.44 165.81 L361.66 165.30 L361.88 164.80 L362.10 164.29 L362.32 163.79 L362.54 163.29 L362.76 162.79 L362.98 162.29 L363.20 161.79 L363.42 161.30 L363.64 160.80 L363.86 160.31 L364.08 159.81 L364.30 159.32 L364.52 158.83 L364.74 158.34 L364.96 157.85 L365.18 157.37 L365.39 156.88 L365.61 156.40 L365.83 155.91 L366.05 155.43 L366.27 154.95 L366.49 154.48 L366.71 154.00 L366.93 153.52 L367.15 153.05 L367.37 152.58 L367.59 152.11 L367.81 151.64 L368.03 151.17 L368.25 150.70 L368.47 150.24 L368.69 149.77 L368.91 149.31 L369.13 148.85 L369.35 148.39 L369.57 147.94 L369.79 147.48 L370.24 146.54 L370.70 145.61 L371.15 144.69 L371.61 143.77 L372.06 142.86 L372.52 141.96 L372.97 141.06 L373.43 140.17 L373.88 139.29 L374.34 138.42 L374.79 137.55 L375.25 136.69 L375.70 135.84 L376.16 134.99 L376.61 134.15 L377.07 133.32 L377.52 132.49 L377.98 131.68 L378.43 130.86 L378.89 130.06 L379.34 129.26 L379.80 128.47 L380.25 127.69 L380.71 126.91 L381.16 126.14 L381.62 125.38 L382.07 124.63 L382.53 123.88 L382.98 123.13 L383.44 122.40 L383.89 121.67 L384.35 120.95 L384.80 120.23 L385.26 119.52 L385.71 118.82 L386.17 118.12 L386.62 117.43 L387.08 116.74 L387.53 116.06 L387.99 115.39 L388.44 114.73 L388.90 114.07 L389.35 113.41 L389.81 112.76 L390.26 112.12 L390.72 111.49 L391.17 110.85 L391.63 110.23 L392.08 109.61 L392.54 109.00 L392.99 108.39 L393.45 107.79 L393.90 107.19 L394.36 106.60 L394.81 106.01 L395.27 105.43 L395.72 104.86 L396.18 104.29 L396.63 103.72 L397.09 103.16 L397.54 102.61 L397.99 102.06 L398.45 101.51 L398.90 100.97 L399.36 100.44 L399.81 99.91 L400.27 99.38 L400.72 98.86 L401.18 98.34 L401.63 97.83 L402.09 97.33 L402.54 96.82 L403.00 96.33 L403.45 95.83 L403.91 95.34 L404.36 94.86 L404.82 94.38 L405.27 93.90 L405.73 93.43 L406.18 92.96 L406.64 92.50 L407.09 92.04 L407.55 91.59 L408.00 91.13 L408.46 90.69 L408.91 90.24 L409.37 89.80 L409.82 89.37 L410.28 88.94 L410.73 88.51 L411.19 88.08 L411.64 87.66 L412.10 87.25 L412.55 86.83 L413.01 86.42 L413.46 86.02 L413.92 85.61 L414.37 85.21 L414.83 84.82 L415.28 84.42 L415.74 84.04 L416.19 83.65 L416.65 83.27 L417.10 82.89 L417.56 82.51 L418.01 82.14 L418.47 81.77 L418.92 81.40 L419.38 81.04 L419.83 80.68 L420.29 80.32 L420.74 79.96 L421.20 79.61 L421.65 79.26 L422.11 78.92 L422.56 78.57 L423.02 78.23 L423.47 77.90 L423.93 77.56 L424.38 77.23 L424.84 76.90 L425.29 76.57 L425.75 76.25 L426.20 75.93 L426.65 75.61 L427.11 75.29 L427.56 74.98 L428.02 74.67 L428.47 74.36 L428.93 74.05 L429.38 73.75 L429.84 73.45 L430.29 73.15 L430.75 72.85 L431.20 72.56 L431.66 72.27 L432.11 71.98 L432.57 71.69 L433.02 71.40 L433.48 71.12 L433.93 70.84 L434.39 70.56 L434.84 70.29 L435.30 70.01 L435.75 69.74 L436.21 69.47 L436.66 69.20 L437.12 68.94 L437.57 68.67 L438.03 68.41 L438.48 68.15 L438.94 67.89 L439.39 67.64 L439.85 67.38 L440.30 67.13 L440.76 66.88 L441.21 66.63 L441.67 66.39 L442.12 66.14 L442.58 65.90 L443.03 65.66 L443.49 65.42 L443.94 65.18 L444.40 64.95 L444.85 64.71 L445.31 64.48 L445.76 64.25 L446.22 64.02 L446.67 63.79 L447.13 63.57 L447.58 63.34 L448.04 63.12 L448.49 62.90 L448.95 62.68 L449.40 62.46 L449.86 62.25 L450.31 62.03 L450.77 61.82 L451.22 61.61 L451.68 61.40 L452.13 61.19 L452.59 60.98 L453.04 60.78 L453.50 60.58 L453.95 60.37 L454.41 60.17 L454.86 59.97 L455.31 59.77 L455.77 59.58 L456.22 59.38 L456.68 59.19 L457.13 58.99 L457.59 58.80 L458.04 58.61 L458.50 58.42 L458.95 58.24 L459.41 58.05 L459.86 57.86 L460.32 57.68 L460.77 57.50 L461.23 57.32 L461.68 57.14 L462.14 56.96 L462.59 56.78 L463.05 56.60 L463.50 56.43 L463.96 56.25 L464.41 56.08 L464.87 55.91 L465.32 55.74 L465.78 55.57 L466.23 55.40 L466.69 55.23 L467.14 55.07 L467.60 54.90 L468.05 54.74 L468.51 54.58 L468.96 54.41 L469.42 54.25 L469.87 54.09 L470.33 53.93 L470.78 53.78 L471.24 53.62 L471.69 53.46 L472.15 53.31 L472.60 53.15 L473.06 53.00 L473.51 52.85 L473.97 52.70 L474.42 52.55 L474.88 52.40 L475.33 52.25 L475.79 52.10 L476.24 51.96 L476.70 51.81 L477.15 51.67 L477.61 51.53 L478.06 51.38 L478.52 51.24 L478.97 51.10 L479.43 50.96 L479.88 50.82 L480.34 50.68 L480.79 50.55 L481.25 50.41 L481.70 50.27 L482.16 50.14 L482.61 50.00 L483.07 49.87 L483.52 49.74 L483.97 49.61 L484.43 49.48 L484.88 49.35 L485.34 49.22 L485.79 49.09 L486.25 48.96 L486.70 48.83 L487.16 48.71 L487.61 48.58 L488.07 48.46 L488.52 48.33 L488.98 48.21 L489.43 48.09 L489.89 47.97 L490.34 47.84 L490.80 47.72 L491.25 47.60 L491.71 47.49 L492.16 47.37 L492.62 47.25 L493.07 47.13 L493.53 47.02 L493.98 46.90 L494.44 46.79 L494.89 46.67 L495.35 46.56 L495.80 46.44 L496.26 46.33 L496.71 46.22 L497.17 46.11 L497.62 46.00 L498.08 45.89 L498.53 45.78 L498.99 45.67 L499.44 45.56 L499.90 45.46 L500.35 45.35 L500.81 45.24 L501.26 45.14 L501.72 45.03 L502.17 44.93 L502.63 44.82 L503.08 44.72 L503.54 44.62 L503.99 44.52 L504.45 44.41 L504.90 44.31 L505.36 44.21 L505.81 44.11 L506.27 44.01 L506.72 43.91 L507.18 43.82 L507.63 43.72 L508.09 43.62 L508.54 43.52 L509.00 43.43 L509.45 43.33 L509.91 43.24 L510.36 43.14 L510.82 43.05 L511.27 42.96 L511.73 42.86 L512.18 42.77 L512.63 42.68 L513.09 42.59 L513.54 42.49 L514.00 42.40 L514.45 42.31 L514.91 42.22 L515.36 42.13 L515.82 42.05 L516.27 41.96 L516.73 41.87 L517.18 41.78 L517.64 41.70 L518.09 41.61 L518.55 41.52 L519.00 41.44 L519.46 41.35 L519.91 41.27 L520.37 41.18 L520.82 41.10 L521.28 41.02 L521.73 40.93 L522.19 40.85 L522.64 40.77 L523.10 40.69 L523.55 40.60 L524.01 40.52 L524.46 40.44 L524.92 40.36 L525.37 40.28 L525.83 40.20 L526.28 40.12 L526.74 40.05 L527.19 39.97 L527.65 39.89 L528.10 39.81 L528.56 39.74 L529.01 39.66 L529.47 39.58 L529.92 39.51 L530.38 39.43 L530.83 39.36 L531.29 39.28 L531.74 39.21 L532.20 39.13 L532.65 39.06 L533.11 38.99 L533.56 38.91 L534.02 38.84 L534.47 38.77 L534.93 38.70 L535.38 38.62 L535.84 38.55 L536.29 38.48 L536.75 38.41 L537.20 38.34 L537.66 38.27 L538.11 38.20 L538.57 38.13 L539.02 38.06 L539.48 37.99 L539.93 37.93 L540.39 37.86 L540.84 37.79 L541.29 37.72 L541.75 37.66 L542.20 37.59 L542.66 37.52 L543.11 37.46 L543.57 37.39 L544.02 37.33 L544.48 37.26 L544.93 37.20 L545.39 37.13 L545.84 37.07 L546.30 37.00 L546.75 36.94 L547.21 36.88 L547.66 36.81 L548.12 36.75 L548.57 36.69 L549.03 36.63 L549.48 36.56 L549.94 36.50 L550.39 36.44 L550.85 36.38 L551.30 36.32" fill="none" stroke="#111" stroke-width="1.15"/>
<path d="M343.20 203.20 L343.42 203.03 L343.64 202.77 L343.86 202.48 L344.08 202.15 L344.30 201.80 L344.52 201.43 L344.74 201.04 L344.96 200.63 L345.18 200.21 L345.40 199.78 L345.62 199.34 L345.84 198.89 L346.06 198.43 L346.28 197.96 L346.50 197.48 L346.72 197.00 L346.94 196.51 L347.16 196.01 L347.38 195.51 L347.59 195.00 L347.81 194.49 L348.03 193.97 L348.25 193.45 L348.47 192.93 L348.69 192.40 L348.91 191.87 L349.13 191.34 L349.35 190.80 L349.57 190.26 L349.79 189.72 L350.01 189.17 L350.23 188.63 L350.45 188.08 L350.67 187.53 L350.89 186.98 L351.11 186.43 L351.33 185.88 L351.55 185.33 L351.77 184.77 L351.99 184.22 L352.21 183.66 L352.43 183.11 L352.65 182.55 L352.87 181.99 L353.09 181.44 L353.31 180.88 L353.53 180.32 L353.75 179.77 L353.97 179.21 L354.19 178.66 L354.41 178.10 L354.63 177.55 L354.85 176.99 L355.07 176.44 L355.29 175.89 L355.51 175.33 L355.73 174.78 L355.95 174.23 L356.17 173.68 L356.38 173.13 L356.60 172.59 L356.82 172.04 L357.04 171.50 L357.26 170.95 L357.48 170.41 L357.70 169.87 L357.92 169.33 L358.14 168.79 L358.36 168.25 L358.58 167.71 L358.80 167.18 L359.02 166.64 L359.24 166.11 L359.46 165.58 L359.68 165.05 L359.90 164.53 L360.12 164.00 L360.34 163.48 L360.56 162.95 L360.78 162.43 L361.00 161.91 L361.22 161.40 L361.44 160.88 L361.66 160.37 L361.88 159.86 L362.10 159.35 L362.32 158.84 L362.54 158.33 L362.76 157.83 L362.98 157.32 L363.20 156.82 L363.42 156.32 L363.64 155.82 L363.86 155.33 L364.08 154.83 L364.30 154.34 L364.52 153.85 L364.74 153.36 L364.96 152.88 L365.18 152.39 L365.39 151.91 L365.61 151.43 L365.83 150.95 L366.05 150.48 L366.27 150.00 L366.49 149.53 L366.71 149.06 L366.93 148.59 L367.15 148.12 L367.37 147.66 L367.59 147.20 L367.81 146.73 L368.03 146.28 L368.25 145.82 L368.47 145.36 L368.69 144.91 L368.91 144.46 L369.13 144.01 L369.35 143.56 L369.57 143.12 L369.79 142.67 L370.24 141.76 L370.70 140.86 L371.15 139.96 L371.61 139.08 L372.06 138.20 L372.52 137.33 L372.97 136.46 L373.43 135.61 L373.88 134.76 L374.34 133.92 L374.79 133.09 L375.25 132.27 L375.70 131.46 L376.16 130.65 L376.61 129.85 L377.07 129.06 L377.52 128.27 L377.98 127.50 L378.43 126.73 L378.89 125.97 L379.34 125.21 L379.80 124.47 L380.25 123.73 L380.71 122.99 L381.16 122.27 L381.62 121.55 L382.07 120.84 L382.53 120.13 L382.98 119.43 L383.44 118.74 L383.89 118.06 L384.35 117.38 L384.80 116.71 L385.26 116.05 L385.71 115.39 L386.17 114.73 L386.62 114.09 L387.08 113.45 L387.53 112.82 L387.99 112.19 L388.44 111.57 L388.90 110.95 L389.35 110.34 L389.81 109.74 L390.26 109.14 L390.72 108.55 L391.17 107.96 L391.63 107.38 L392.08 106.81 L392.54 106.24 L392.99 105.67 L393.45 105.11 L393.90 104.56 L394.36 104.01 L394.81 103.47 L395.27 102.93 L395.72 102.39 L396.18 101.87 L396.63 101.34 L397.09 100.82 L397.54 100.31 L397.99 99.80 L398.45 99.30 L398.90 98.80 L399.36 98.30 L399.81 97.81 L400.27 97.32 L400.72 96.84 L401.18 96.37 L401.63 95.89 L402.09 95.42 L402.54 94.96 L403.00 94.50 L403.45 94.04 L403.91 93.59 L404.36 93.14 L404.82 92.70 L405.27 92.26 L405.73 91.82 L406.18 91.39 L406.64 90.96 L407.09 90.54 L407.55 90.12 L408.00 89.70 L408.46 89.29 L408.91 88.88 L409.37 88.47 L409.82 88.07 L410.28 87.67 L410.73 87.28 L411.19 86.88 L411.64 86.50 L412.10 86.11 L412.55 85.73 L413.01 85.35 L413.46 84.97 L413.92 84.60 L414.37 84.23 L414.83 83.87 L415.28 83.50 L415.74 83.14 L416.19 82.79 L416.65 82.43 L417.10 82.08 L417.56 81.73 L418.01 81.39 L418.47 81.05 L418.92 80.71 L419.38 80.37 L419.83 80.04 L420.29 79.71 L420.74 79.38 L421.20 79.05 L421.65 78.73 L422.11 78.41 L422.56 78.09 L423.02 77.78 L423.47 77.46 L423.93 77.15 L424.38 76.84 L424.84 76.54 L425.29 76.24 L425.75 75.94 L426.20 75.64 L426.65 75.34 L427.11 75.05 L427.56 74.76 L428.02 74.47 L428.47 74.18 L428.93 73.90 L429.38 73.62 L429.84 73.34 L430.29 73.06 L430.75 72.79 L431.20 72.51 L431.66 72.24 L432.11 71.97 L432.57 71.70 L433.02 71.44 L433.48 71.18 L433.93 70.92 L434.39 70.66 L434.84 70.40 L435.30 70.14 L435.75 69.89 L436.21 69.64 L436.66 69.39 L437.12 69.14 L437.57 68.90 L438.03 68.65 L438.48 68.41 L438.94 68.17 L439.39 67.93 L439.85 67.70 L440.30 67.46 L440.76 67.23 L441.21 66.99 L441.67 66.76 L442.12 66.54 L442.58 66.31 L443.03 66.08 L443.49 65.86 L443.94 65.64 L444.40 65.42 L444.85 65.20 L445.31 64.98 L445.76 64.77 L446.22 64.55 L446.67 64.34 L447.13 64.13 L447.58 63.92 L448.04 63.71 L448.49 63.51 L448.95 63.30 L449.40 63.10 L449.86 62.89 L450.31 62.69 L450.77 62.49 L451.22 62.30 L451.68 62.10 L452.13 61.90 L452.59 61.71 L453.04 61.52 L453.50 61.33 L453.95 61.13 L454.41 60.95 L454.86 60.76 L455.31 60.57 L455.77 60.39 L456.22 60.20 L456.68 60.02 L457.13 59.84 L457.59 59.66 L458.04 59.48 L458.50 59.30 L458.95 59.12 L459.41 58.95 L459.86 58.77 L460.32 58.60 L460.77 58.43 L461.23 58.26 L461.68 58.09 L462.14 57.92 L462.59 57.75 L463.05 57.59 L463.50 57.42 L463.96 57.25 L464.41 57.09 L464.87 56.93 L465.32 56.77 L465.78 56.61 L466.23 56.45 L466.69 56.29 L467.14 56.13 L467.60 55.98 L468.05 55.82 L468.51 55.67 L468.96 55.51 L469.42 55.36 L469.87 55.21 L470.33 55.06 L470.78 54.91 L471.24 54.76 L471.69 54.61 L472.15 54.46 L472.60 54.32 L473.06 54.17 L473.51 54.03 L473.97 53.89 L474.42 53.74 L474.88 53.60 L475.33 53.46 L475.79 53.32 L476.24 53.18 L476.70 53.04 L477.15 52.91 L477.61 52.77 L478.06 52.63 L478.52 52.50 L478.97 52.37 L479.43 52.23 L479.88 52.10 L480.34 51.97 L480.79 51.84 L481.25 51.71 L481.70 51.58 L482.16 51.45 L482.61 51.32 L483.07 51.19 L483.52 51.07 L483.97 50.94 L484.43 50.82 L484.88 50.69 L485.34 50.57 L485.79 50.44 L486.25 50.32 L486.70 50.20 L487.16 50.08 L487.61 49.96 L488.07 49.84 L488.52 49.72 L488.98 49.60 L489.43 49.49 L489.89 49.37 L490.34 49.25 L490.80 49.14 L491.25 49.02 L491.71 48.91 L492.16 48.79 L492.62 48.68 L493.07 48.57 L493.53 48.46 L493.98 48.35 L494.44 48.24 L494.89 48.13 L495.35 48.02 L495.80 47.91 L496.26 47.80 L496.71 47.69 L497.17 47.59 L497.62 47.48 L498.08 47.37 L498.53 47.27 L498.99 47.16 L499.44 47.06 L499.90 46.96 L500.35 46.85 L500.81 46.75 L501.26 46.65 L501.72 46.55 L502.17 46.45 L502.63 46.35 L503.08 46.25 L503.54 46.15 L503.99 46.05 L504.45 45.95 L504.90 45.85 L505.36 45.76 L505.81 45.66 L506.27 45.56 L506.72 45.47 L507.18 45.37 L507.63 45.28 L508.09 45.18 L508.54 45.09 L509.00 45.00 L509.45 44.90 L509.91 44.81 L510.36 44.72 L510.82 44.63 L511.27 44.54 L511.73 44.45 L512.18 44.36 L512.63 44.27 L513.09 44.18 L513.54 44.09 L514.00 44.00 L514.45 43.91 L514.91 43.83 L515.36 43.74 L515.82 43.65 L516.27 43.57 L516.73 43.48 L517.18 43.40 L517.64 43.31 L518.09 43.23 L518.55 43.15 L519.00 43.06 L519.46 42.98 L519.91 42.90 L520.37 42.81 L520.82 42.73 L521.28 42.65 L521.73 42.57 L522.19 42.49 L522.64 42.41 L523.10 42.33 L523.55 42.25 L524.01 42.17 L524.46 42.09 L524.92 42.01 L525.37 41.94 L525.83 41.86 L526.28 41.78 L526.74 41.70 L527.19 41.63 L527.65 41.55 L528.10 41.48 L528.56 41.40 L529.01 41.32 L529.47 41.25 L529.92 41.18 L530.38 41.10 L530.83 41.03 L531.29 40.95 L531.74 40.88 L532.20 40.81 L532.65 40.74 L533.11 40.67 L533.56 40.59 L534.02 40.52 L534.47 40.45 L534.93 40.38 L535.38 40.31 L535.84 40.24 L536.29 40.17 L536.75 40.10 L537.20 40.03 L537.66 39.96 L538.11 39.89 L538.57 39.83 L539.02 39.76 L539.48 39.69 L539.93 39.62 L540.39 39.56 L540.84 39.49 L541.29 39.42 L541.75 39.36 L542.20 39.29 L542.66 39.23 L543.11 39.16 L543.57 39.10 L544.02 39.03 L544.48 38.97 L544.93 38.90 L545.39 38.84 L545.84 38.78 L546.30 38.71 L546.75 38.65 L547.21 38.59 L547.66 38.53 L548.12 38.46 L548.57 38.40 L549.03 38.34 L549.48 38.28 L549.94 38.22 L550.39 38.16 L550.85 38.10 L551.30 38.04" fill="none" stroke="#ff0000" stroke-width="1.3" stroke-dasharray="1.1 2.1"/>
<path d="M343.20 203.20 L343.42 203.02 L343.64 202.75 L343.86 202.44 L344.08 202.11 L344.30 201.75 L344.52 201.37 L344.74 200.97 L344.96 200.56 L345.18 200.13 L345.40 199.70 L345.62 199.25 L345.84 198.80 L346.06 198.33 L346.28 197.86 L346.50 197.38 L346.72 196.89 L346.94 196.40 L347.16 195.90 L347.38 195.40 L347.59 194.89 L347.81 194.38 L348.03 193.86 L348.25 193.34 L348.47 192.81 L348.69 192.29 L348.91 191.76 L349.13 191.22 L349.35 190.69 L349.57 190.15 L349.79 189.61 L350.01 189.07 L350.23 188.53 L350.45 187.98 L350.67 187.44 L350.89 186.89 L351.11 186.34 L351.33 185.80 L351.55 185.25 L351.77 184.70 L351.99 184.15 L352.21 183.60 L352.43 183.05 L352.65 182.49 L352.87 181.94 L353.09 181.39 L353.31 180.84 L353.53 180.29 L353.75 179.74 L353.97 179.19 L354.19 178.64 L354.41 178.09 L354.63 177.54 L354.85 176.99 L355.07 176.45 L355.29 175.90 L355.51 175.36 L355.73 174.81 L355.95 174.27 L356.17 173.73 L356.38 173.18 L356.60 172.64 L356.82 172.10 L357.04 171.57 L357.26 171.03 L357.48 170.49 L357.70 169.96 L357.92 169.43 L358.14 168.89 L358.36 168.36 L358.58 167.84 L358.80 167.31 L359.02 166.78 L359.24 166.26 L359.46 165.74 L359.68 165.22 L359.90 164.70 L360.12 164.18 L360.34 163.66 L360.56 163.15 L360.78 162.63 L361.00 162.12 L361.22 161.61 L361.44 161.11 L361.66 160.60 L361.88 160.10 L362.10 159.59 L362.32 159.09 L362.54 158.59 L362.76 158.10 L362.98 157.60 L363.20 157.11 L363.42 156.62 L363.64 156.13 L363.86 155.64 L364.08 155.15 L364.30 154.67 L364.52 154.19 L364.74 153.71 L364.96 153.23 L365.18 152.75 L365.39 152.28 L365.61 151.80 L365.83 151.33 L366.05 150.86 L366.27 150.40 L366.49 149.93 L366.71 149.47 L366.93 149.01 L367.15 148.55 L367.37 148.09 L367.59 147.64 L367.81 147.18 L368.03 146.73 L368.25 146.28 L368.47 145.83 L368.69 145.39 L368.91 144.94 L369.13 144.50 L369.35 144.06 L369.57 143.62 L369.79 143.19 L370.24 142.29 L370.70 141.40 L371.15 140.52 L371.61 139.65 L372.06 138.78 L372.52 137.92 L372.97 137.07 L373.43 136.23 L373.88 135.40 L374.34 134.58 L374.79 133.76 L375.25 132.95 L375.70 132.15 L376.16 131.35 L376.61 130.56 L377.07 129.78 L377.52 129.01 L377.98 128.25 L378.43 127.49 L378.89 126.74 L379.34 126.00 L379.80 125.26 L380.25 124.53 L380.71 123.81 L381.16 123.09 L381.62 122.38 L382.07 121.68 L382.53 120.99 L382.98 120.30 L383.44 119.62 L383.89 118.94 L384.35 118.27 L384.80 117.61 L385.26 116.96 L385.71 116.31 L386.17 115.66 L386.62 115.02 L387.08 114.39 L387.53 113.77 L387.99 113.15 L388.44 112.53 L388.90 111.93 L389.35 111.32 L389.81 110.73 L390.26 110.14 L390.72 109.55 L391.17 108.97 L391.63 108.40 L392.08 107.83 L392.54 107.27 L392.99 106.71 L393.45 106.15 L393.90 105.61 L394.36 105.06 L394.81 104.53 L395.27 103.99 L395.72 103.46 L396.18 102.94 L396.63 102.42 L397.09 101.91 L397.54 101.40 L397.99 100.90 L398.45 100.40 L398.90 99.90 L399.36 99.41 L399.81 98.93 L400.27 98.44 L400.72 97.97 L401.18 97.49 L401.63 97.02 L402.09 96.56 L402.54 96.10 L403.00 95.64 L403.45 95.19 L403.91 94.74 L404.36 94.30 L404.82 93.86 L405.27 93.42 L405.73 92.99 L406.18 92.56 L406.64 92.13 L407.09 91.71 L407.55 91.29 L408.00 90.88 L408.46 90.47 L408.91 90.06 L409.37 89.66 L409.82 89.26 L410.28 88.86 L410.73 88.47 L411.19 88.08 L411.64 87.69 L412.10 87.31 L412.55 86.93 L413.01 86.55 L413.46 86.18 L413.92 85.81 L414.37 85.44 L414.83 85.08 L415.28 84.72 L415.74 84.36 L416.19 84.00 L416.65 83.65 L417.10 83.30 L417.56 82.95 L418.01 82.61 L418.47 82.27 L418.92 81.93 L419.38 81.60 L419.83 81.26 L420.29 80.93 L420.74 80.61 L421.20 80.28 L421.65 79.96 L422.11 79.64 L422.56 79.32 L423.02 79.01 L423.47 78.70 L423.93 78.39 L424.38 78.08 L424.84 77.78 L425.29 77.47 L425.75 77.17 L426.20 76.88 L426.65 76.58 L427.11 76.29 L427.56 76.00 L428.02 75.71 L428.47 75.42 L428.93 75.14 L429.38 74.86 L429.84 74.58 L430.29 74.30 L430.75 74.02 L431.20 73.75 L431.66 73.48 L432.11 73.21 L432.57 72.94 L433.02 72.68 L433.48 72.42 L433.93 72.16 L434.39 71.90 L434.84 71.64 L435.30 71.38 L435.75 71.13 L436.21 70.88 L436.66 70.63 L437.12 70.38 L437.57 70.13 L438.03 69.89 L438.48 69.65 L438.94 69.41 L439.39 69.17 L439.85 68.93 L440.30 68.70 L440.76 68.46 L441.21 68.23 L441.67 68.00 L442.12 67.77 L442.58 67.54 L443.03 67.32 L443.49 67.09 L443.94 66.87 L444.40 66.65 L444.85 66.43 L445.31 66.21 L445.76 66.00 L446.22 65.78 L446.67 65.57 L447.13 65.36 L447.58 65.15 L448.04 64.94 L448.49 64.73 L448.95 64.52 L449.40 64.32 L449.86 64.12 L450.31 63.91 L450.77 63.71 L451.22 63.51 L451.68 63.32 L452.13 63.12 L452.59 62.93 L453.04 62.73 L453.50 62.54 L453.95 62.35 L454.41 62.16 L454.86 61.97 L455.31 61.78 L455.77 61.60 L456.22 61.41 L456.68 61.23 L457.13 61.04 L457.59 60.86 L458.04 60.68 L458.50 60.50 L458.95 60.33 L459.41 60.15 L459.86 59.97 L460.32 59.80 L460.77 59.63 L461.23 59.45 L461.68 59.28 L462.14 59.11 L462.59 58.94 L463.05 58.78 L463.50 58.61 L463.96 58.44 L464.41 58.28 L464.87 58.12 L465.32 57.95 L465.78 57.79 L466.23 57.63 L466.69 57.47 L467.14 57.31 L467.60 57.16 L468.05 57.00 L468.51 56.84 L468.96 56.69 L469.42 56.53 L469.87 56.38 L470.33 56.23 L470.78 56.08 L471.24 55.93 L471.69 55.78 L472.15 55.63 L472.60 55.48 L473.06 55.34 L473.51 55.19 L473.97 55.05 L474.42 54.90 L474.88 54.76 L475.33 54.62 L475.79 54.48 L476.24 54.34 L476.70 54.20 L477.15 54.06 L477.61 53.92 L478.06 53.78 L478.52 53.65 L478.97 53.51 L479.43 53.38 L479.88 53.24 L480.34 53.11 L480.79 52.98 L481.25 52.85 L481.70 52.72 L482.16 52.59 L482.61 52.46 L483.07 52.33 L483.52 52.20 L483.97 52.07 L484.43 51.95 L484.88 51.82 L485.34 51.69 L485.79 51.57 L486.25 51.45 L486.70 51.32 L487.16 51.20 L487.61 51.08 L488.07 50.96 L488.52 50.84 L488.98 50.72 L489.43 50.60 L489.89 50.48 L490.34 50.37 L490.80 50.25 L491.25 50.13 L491.71 50.02 L492.16 49.90 L492.62 49.79 L493.07 49.67 L493.53 49.56 L493.98 49.45 L494.44 49.34 L494.89 49.22 L495.35 49.11 L495.80 49.00 L496.26 48.89 L496.71 48.79 L497.17 48.68 L497.62 48.57 L498.08 48.46 L498.53 48.36 L498.99 48.25 L499.44 48.14 L499.90 48.04 L500.35 47.93 L500.81 47.83 L501.26 47.73 L501.72 47.62 L502.17 47.52 L502.63 47.42 L503.08 47.32 L503.54 47.22 L503.99 47.12 L504.45 47.02 L504.90 46.92 L505.36 46.82 L505.81 46.72 L506.27 46.63 L506.72 46.53 L507.18 46.43 L507.63 46.34 L508.09 46.24 L508.54 46.15 L509.00 46.05 L509.45 45.96 L509.91 45.86 L510.36 45.77 L510.82 45.68 L511.27 45.59 L511.73 45.49 L512.18 45.40 L512.63 45.31 L513.09 45.22 L513.54 45.13 L514.00 45.04 L514.45 44.95 L514.91 44.86 L515.36 44.78 L515.82 44.69 L516.27 44.60 L516.73 44.51 L517.18 44.43 L517.64 44.34 L518.09 44.26 L518.55 44.17 L519.00 44.09 L519.46 44.00 L519.91 43.92 L520.37 43.83 L520.82 43.75 L521.28 43.67 L521.73 43.59 L522.19 43.50 L522.64 43.42 L523.10 43.34 L523.55 43.26 L524.01 43.18 L524.46 43.10 L524.92 43.02 L525.37 42.94 L525.83 42.86 L526.28 42.78 L526.74 42.70 L527.19 42.63 L527.65 42.55 L528.10 42.47 L528.56 42.40 L529.01 42.32 L529.47 42.24 L529.92 42.17 L530.38 42.09 L530.83 42.02 L531.29 41.94 L531.74 41.87 L532.20 41.79 L532.65 41.72 L533.11 41.65 L533.56 41.57 L534.02 41.50 L534.47 41.43 L534.93 41.36 L535.38 41.29 L535.84 41.21 L536.29 41.14 L536.75 41.07 L537.20 41.00 L537.66 40.93 L538.11 40.86 L538.57 40.79 L539.02 40.72 L539.48 40.66 L539.93 40.59 L540.39 40.52 L540.84 40.45 L541.29 40.38 L541.75 40.32 L542.20 40.25 L542.66 40.18 L543.11 40.12 L543.57 40.05 L544.02 39.98 L544.48 39.92 L544.93 39.85 L545.39 39.79 L545.84 39.72 L546.30 39.66 L546.75 39.59 L547.21 39.53 L547.66 39.47 L548.12 39.40 L548.57 39.34 L549.03 39.28 L549.48 39.22 L549.94 39.15 L550.39 39.09 L550.85 39.03 L551.30 38.97" fill="none" stroke="#00e000" stroke-width="0.9" stroke-dasharray="0.5 1.1"/>
<path d="M343.20 203.20 L343.42 203.19 L343.64 203.17 L343.86 203.14 L344.08 203.10 L344.30 203.05 L344.52 202.98 L344.74 202.91 L344.96 202.82 L345.18 202.73 L345.40 202.62 L345.62 202.51 L345.84 202.39 L346.06 202.25 L346.28 202.11 L346.50 201.96 L346.72 201.80 L346.94 201.63 L347.16 201.45 L347.38 201.27 L347.59 201.07 L347.81 200.87 L348.03 200.65 L348.25 200.43 L348.47 200.20 L348.69 199.97 L348.91 199.72 L349.13 199.47 L349.35 199.20 L349.57 198.94 L349.79 198.66 L350.01 198.37 L350.23 198.08 L350.45 197.78 L350.67 197.48 L350.89 197.16 L351.11 196.84 L351.33 196.51 L351.55 196.18 L351.77 195.84 L351.99 195.49 L352.21 195.13 L352.43 194.77 L352.65 194.41 L352.87 194.03 L353.09 193.65 L353.31 193.27 L353.53 192.88 L353.75 192.48 L353.97 192.07 L354.19 191.67 L354.41 191.25 L354.63 190.83 L354.85 190.41 L355.07 189.98 L355.29 189.54 L355.51 189.10 L355.73 188.66 L355.95 188.21 L356.17 187.75 L356.38 187.29 L356.60 186.83 L356.82 186.36 L357.04 185.89 L357.26 185.41 L357.48 184.93 L357.70 184.45 L357.92 183.96 L358.14 183.47 L358.36 182.97 L358.58 182.47 L358.80 181.97 L359.02 181.46 L359.24 180.95 L359.46 180.44 L359.68 179.92 L359.90 179.41 L360.12 178.88 L360.34 178.36 L360.56 177.83 L360.78 177.30 L361.00 176.77 L361.22 176.24 L361.44 175.70 L361.66 175.16 L361.88 174.62 L362.10 174.07 L362.32 173.53 L362.54 172.98 L362.76 172.43 L362.98 171.88 L363.20 171.33 L363.42 170.77 L363.64 170.22 L363.86 169.66 L364.08 169.10 L364.30 168.54 L364.52 167.98 L364.74 167.42 L364.96 166.86 L365.18 166.29 L365.39 165.73 L365.61 165.16 L365.83 164.60 L366.05 164.03 L366.27 163.46 L366.49 162.89 L366.71 162.32 L366.93 161.75 L367.15 161.18 L367.37 160.61 L367.59 160.04 L367.81 159.47 L368.03 158.90 L368.25 158.33 L368.47 157.76 L368.69 157.19 L368.91 156.62 L369.13 156.05 L369.35 155.48 L369.57 154.91 L369.79 154.34 L370.24 153.16 L370.70 151.99 L371.15 150.81 L371.61 149.64 L372.06 148.48 L372.52 147.31 L372.97 146.15 L373.43 145.00 L373.88 143.85 L374.34 142.70 L374.79 141.56 L375.25 140.43 L375.70 139.30 L376.16 138.18 L376.61 137.06 L377.07 135.95 L377.52 134.85 L377.98 133.75 L378.43 132.66 L378.89 131.58 L379.34 130.50 L379.80 129.43 L380.25 128.37 L380.71 127.32 L381.16 126.28 L381.62 125.24 L382.07 124.21 L382.53 123.19 L382.98 122.18 L383.44 121.18 L383.89 120.19 L384.35 119.20 L384.80 118.22 L385.26 117.25 L385.71 116.29 L386.17 115.34 L386.62 114.40 L387.08 113.46 L387.53 112.54 L387.99 111.62 L388.44 110.71 L388.90 109.81 L389.35 108.92 L389.81 108.04 L390.26 107.16 L390.72 106.30 L391.17 105.44 L391.63 104.59 L392.08 103.75 L392.54 102.92 L392.99 102.10 L393.45 101.29 L393.90 100.48 L394.36 99.68 L394.81 98.90 L395.27 98.11 L395.72 97.34 L396.18 96.58 L396.63 95.82 L397.09 95.07 L397.54 94.33 L397.99 93.60 L398.45 92.88 L398.90 92.16 L399.36 91.45 L399.81 90.75 L400.27 90.06 L400.72 89.37 L401.18 88.69 L401.63 88.02 L402.09 87.35 L402.54 86.70 L403.00 86.05 L403.45 85.41 L403.91 84.77 L404.36 84.14 L404.82 83.52 L405.27 82.91 L405.73 82.30 L406.18 81.70 L406.64 81.10 L407.09 80.52 L407.55 79.93 L408.00 79.36 L408.46 78.79 L408.91 78.23 L409.37 77.67 L409.82 77.12 L410.28 76.58 L410.73 76.04 L411.19 75.51 L411.64 74.98 L412.10 74.46 L412.55 73.95 L413.01 73.44 L413.46 72.94 L413.92 72.44 L414.37 71.95 L414.83 71.46 L415.28 70.98 L415.74 70.50 L416.19 70.03 L416.65 69.57 L417.10 69.11 L417.56 68.65 L418.01 68.20 L418.47 67.75 L418.92 67.31 L419.38 66.88 L419.83 66.45 L420.29 66.02 L420.74 65.60 L421.20 65.18 L421.65 64.77 L422.11 64.36 L422.56 63.96 L423.02 63.56 L423.47 63.16 L423.93 62.77 L424.38 62.38 L424.84 62.00 L425.29 61.62 L425.75 61.25 L426.20 60.88 L426.65 60.51 L427.11 60.15 L427.56 59.79 L428.02 59.44 L428.47 59.08 L428.93 58.74 L429.38 58.39 L429.84 58.05 L430.29 57.72 L430.75 57.38 L431.20 57.05 L431.66 56.73 L432.11 56.41 L432.57 56.09 L433.02 55.77 L433.48 55.46 L433.93 55.15 L434.39 54.84 L434.84 54.54 L435.30 54.24 L435.75 53.94 L436.21 53.65 L436.66 53.36 L437.12 53.07 L437.57 52.78 L438.03 52.50 L438.48 52.22 L438.94 51.95 L439.39 51.67 L439.85 51.40 L440.30 51.13 L440.76 50.87 L441.21 50.61 L441.67 50.34 L442.12 50.09 L442.58 49.83 L443.03 49.58 L443.49 49.33 L443.94 49.08 L444.40 48.84 L444.85 48.59 L445.31 48.35 L445.76 48.12 L446.22 47.88 L446.67 47.65 L447.13 47.42 L447.58 47.19 L448.04 46.96 L448.49 46.74 L448.95 46.51 L449.40 46.29 L449.86 46.08 L450.31 45.86 L450.77 45.65 L451.22 45.43 L451.68 45.22 L452.13 45.02 L452.59 44.81 L453.04 44.61 L453.50 44.40 L453.95 44.20 L454.41 44.01 L454.86 43.81 L455.31 43.61 L455.77 43.42 L456.22 43.23 L456.68 43.04 L457.13 42.85 L457.59 42.67 L458.04 42.48 L458.50 42.30 L458.95 42.12 L459.41 41.94 L459.86 41.77 L460.32 41.59 L460.77 41.42 L461.23 41.24 L461.68 41.07 L462.14 40.90 L462.59 40.73 L463.05 40.57 L463.50 40.40 L463.96 40.24 L464.41 40.08 L464.87 39.92 L465.32 39.76 L465.78 39.60 L466.23 39.44 L466.69 39.29 L467.14 39.13 L467.60 38.98 L468.05 38.83 L468.51 38.68 L468.96 38.53 L469.42 38.39 L469.87 38.24 L470.33 38.09 L470.78 37.95 L471.24 37.81 L471.69 37.67 L472.15 37.53 L472.60 37.39 L473.06 37.25 L473.51 37.12 L473.97 36.98 L474.42 36.85 L474.88 36.71 L475.33 36.58 L475.79 36.45 L476.24 36.32 L476.70 36.19 L477.15 36.07 L477.61 35.94 L478.06 35.82 L478.52 35.69 L478.97 35.57 L479.43 35.45 L479.88 35.33 L480.34 35.20 L480.79 35.09 L481.25 34.97 L481.70 34.85 L482.16 34.73 L482.61 34.62 L483.07 34.50 L483.52 34.39 L483.97 34.28 L484.43 34.17 L484.88 34.06 L485.34 33.95 L485.79 33.84 L486.25 33.73 L486.70 33.62 L487.16 33.51 L487.61 33.41 L488.07 33.30 L488.52 33.20 L488.98 33.10 L489.43 32.99 L489.89 32.89 L490.34 32.79 L490.80 32.69 L491.25 32.59 L491.71 32.49 L492.16 32.40 L492.62 32.30 L493.07 32.20 L493.53 32.11 L493.98 32.01 L494.44 31.92 L494.89 31.83 L495.35 31.73 L495.80 31.64 L496.26 31.55 L496.71 31.46 L497.17 31.37 L497.62 31.28 L498.08 31.19 L498.53 31.11 L498.99 31.02 L499.44 30.93 L499.90 30.85 L500.35 30.76 L500.81 30.68 L501.26 30.59 L501.72 30.51 L502.17 30.43 L502.63 30.34 L503.08 30.26 L503.54 30.18 L503.99 30.10 L504.45 30.02 L504.90 29.94 L505.36 29.86 L505.81 29.78 L506.27 29.71 L506.72 29.63 L507.18 29.55 L507.63 29.48 L508.09 29.40 L508.54 29.33 L509.00 29.25 L509.45 29.18 L509.91 29.11 L510.36 29.03 L510.82 28.96 L511.27 28.89 L511.73 28.82 L512.18 28.75 L512.63 28.68 L513.09 28.61 L513.54 28.54 L514.00 28.47 L514.45 28.40 L514.91 28.33 L515.36 28.27 L515.82 28.20 L516.27 28.13 L516.73 28.07 L517.18 28.00 L517.64 27.94 L518.09 27.87 L518.55 27.81 L519.00 27.74 L519.46 27.68 L519.91 27.62 L520.37 27.56 L520.82 27.49 L521.28 27.43 L521.73 27.37 L522.19 27.31 L522.64 27.25 L523.10 27.19 L523.55 27.13 L524.01 27.07 L524.46 27.01 L524.92 26.95 L525.37 26.90 L525.83 26.84 L526.28 26.78 L526.74 26.72 L527.19 26.67 L527.65 26.61 L528.10 26.56 L528.56 26.50 L529.01 26.45 L529.47 26.39 L529.92 26.34 L530.38 26.28 L530.83 26.23 L531.29 26.18 L531.74 26.12 L532.20 26.07 L532.65 26.02 L533.11 25.97 L533.56 25.91 L534.02 25.86 L534.47 25.81 L534.93 25.76 L535.38 25.71 L535.84 25.66 L536.29 25.61 L536.75 25.56 L537.20 25.51 L537.66 25.46 L538.11 25.41 L538.57 25.37 L539.02 25.32 L539.48 25.27 L539.93 25.22 L540.39 25.18 L540.84 25.13 L541.29 25.08 L541.75 25.04 L542.20 24.99 L542.66 24.95 L543.11 24.90 L543.57 24.86 L544.02 24.81 L544.48 24.77 L544.93 24.72 L545.39 24.68 L545.84 24.63 L546.30 24.59 L546.75 24.55 L547.21 24.50 L547.66 24.46 L548.12 24.42 L548.57 24.38 L549.03 24.34 L549.48 24.29 L549.94 24.25 L550.39 24.21 L550.85 24.17 L551.30 24.13" fill="none" stroke="#0000ff" stroke-width="1.0" stroke-dasharray="1.6 1.2 0.4 1.2"/>
<rect x="481.4" y="170.7" width="69.8" height="39.0" fill="none" stroke="#444" stroke-width="0.9"/>
<path d="M487.4 178.30 H499.7" fill="none" stroke="#222" stroke-width="1.4"/>
<text x="503.9" y="181.00" font-size="6.8" fill="#000" stroke="#000" stroke-width="0.12">MLE</text>
<path d="M487.4 186.20 H499.7" fill="none" stroke="#ff0000" stroke-width="1.3" stroke-dasharray="1.1 2.1"/>
<text x="503.9" y="188.90" font-size="6.8" fill="#000" stroke="#000" stroke-width="0.12">CorrectedMLE</text>
<path d="M487.4 194.10 H499.7" fill="none" stroke="#00e000" stroke-width="0.9" stroke-dasharray="0.5 1.1"/>
<text x="503.9" y="196.80" font-size="6.8" fill="#000" stroke="#000" stroke-width="0.12">Boostrap</text>
<path d="M487.4 202.00 H499.7" fill="none" stroke="#0000ff" stroke-width="1.0" stroke-dasharray="1.6 1.2 0.4 1.2"/>
<text x="503.9" y="204.70" font-size="6.8" fill="#000" stroke="#000" stroke-width="0.12">GM Method</text>
<rect x="322.4" y="6.1" width="228.8" height="204.5" stroke="#2a2a2a" stroke-width="0.95" fill="none"/>
<path d="M322.4 203.20 H318.3" stroke="#2a2a2a" stroke-width="0.95" fill="none"/>
<text transform="translate(313.2 203.40) rotate(-90) scale(0.94 1)" text-anchor="middle" font-size="10" fill="#000" stroke="#000" stroke-width="0.2">0.0</text>
<path d="M322.4 165.32 H318.3" stroke="#2a2a2a" stroke-width="0.95" fill="none"/>
<text transform="translate(313.2 165.52) rotate(-90) scale(0.94 1)" text-anchor="middle" font-size="10" fill="#000" stroke="#000" stroke-width="0.2">0.2</text>
<path d="M322.4 127.44 H318.3" stroke="#2a2a2a" stroke-width="0.95" fill="none"/>
<text transform="translate(313.2 127.64) rotate(-90) scale(0.94 1)" text-anchor="middle" font-size="10" fill="#000" stroke="#000" stroke-width="0.2">0.4</text>
<path d="M322.4 89.56 H318.3" stroke="#2a2a2a" stroke-width="0.95" fill="none"/>
<text transform="translate(313.2 89.76) rotate(-90) scale(0.94 1)" text-anchor="middle" font-size="10" fill="#000" stroke="#000" stroke-width="0.2">0.6</text>
<path d="M322.4 51.68 H318.3" stroke="#2a2a2a" stroke-width="0.95" fill="none"/>
<text transform="translate(313.2 51.88) rotate(-90) scale(0.94 1)" text-anchor="middle" font-size="10" fill="#000" stroke="#000" stroke-width="0.2">0.8</text>
<path d="M322.4 13.80 H318.3" stroke="#2a2a2a" stroke-width="0.95" fill="none"/>
<text transform="translate(313.2 14.00) rotate(-90) scale(0.94 1)" text-anchor="middle" font-size="10" fill="#000" stroke="#000" stroke-width="0.2">1.0</text>
<path d="M343.20 210.6 V214.5" stroke="#2a2a2a" stroke-width="0.95" fill="none"/>
<text transform="translate(343.20 227.8) scale(0.94 1)" text-anchor="middle" font-size="10" fill="#000" stroke="#000" stroke-width="0.2">0</text>
<path d="M387.15 210.6 V214.5" stroke="#2a2a2a" stroke-width="0.95" fill="none"/>
<text transform="translate(387.15 227.8) scale(0.94 1)" text-anchor="middle" font-size="10" fill="#000" stroke="#000" stroke-width="0.2">100</text>
<path d="M431.10 210.6 V214.5" stroke="#2a2a2a" stroke-width="0.95" fill="none"/>
<text transform="translate(431.10 227.8) scale(0.94 1)" text-anchor="middle" font-size="10" fill="#000" stroke="#000" stroke-width="0.2">200</text>
<path d="M475.05 210.6 V214.5" stroke="#2a2a2a" stroke-width="0.95" fill="none"/>
<text transform="translate(475.05 227.8) scale(0.94 1)" text-anchor="middle" font-size="10" fill="#000" stroke="#000" stroke-width="0.2">300</text>
<path d="M519.00 210.6 V214.5" stroke="#2a2a2a" stroke-width="0.95" fill="none"/>
<text transform="translate(519.00 227.8) scale(0.94 1)" text-anchor="middle" font-size="10" fill="#000" stroke="#000" stroke-width="0.2">400</text>
<text x="437.7" y="246.5" text-anchor="middle" font-size="13.4" textLength="88.2" lengthAdjust="spacingAndGlyphs" fill="#000" stroke="#000" stroke-width="0.3">Time to Failure</text>
<text transform="translate(294.4 108.3) rotate(-90)" text-anchor="middle" font-size="13.4" textLength="30.4" lengthAdjust="spacingAndGlyphs" fill="#000" stroke="#000" stroke-width="0.3">Fn(x)</text>
</g>
</svg>
</body>
</html>
